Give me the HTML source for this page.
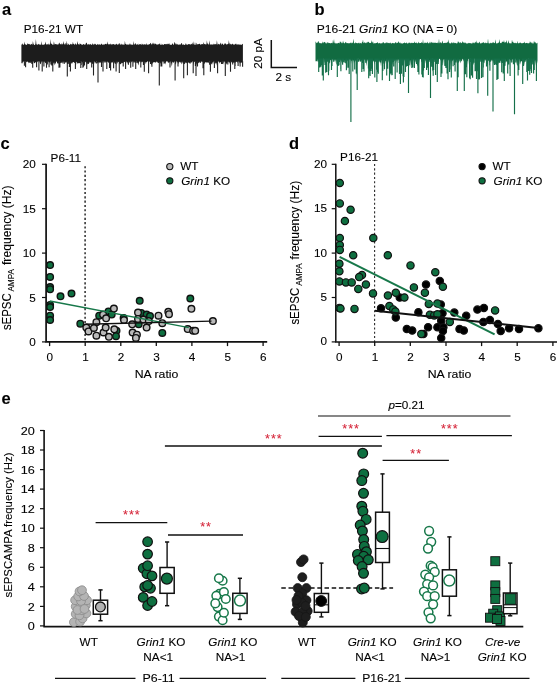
<!DOCTYPE html>
<html lang="en">
<head>
<meta charset="utf-8">
<title>Figure</title>
<style>
html,body{margin:0;padding:0;background:#fff;}
body{width:557px;height:685px;overflow:hidden;font-family:"Liberation Sans",Arial,Helvetica,sans-serif;}
svg{display:block;}
</style>
</head>
<body>
<svg width="557" height="685" viewBox="0 0 557 685">
<g font-family="'Liberation Sans', Arial, Helvetica, sans-serif">
<text transform="translate(2,14.6) scale(1.0,1)" font-size="16.5" font-weight="bold" fill="#000000" stroke="#000000" stroke-width="0.1">a</text>
<text transform="translate(23.7,33) scale(1.04,1)" font-size="11.3" fill="#000000" stroke="#000000" stroke-width="0.1">P16-21 WT</text>
<path d="M21.4,43.8 21.9,45 22.4,44.1 22.9,43.3 23.4,45 23.9,44.9 24.4,41.5 24.9,44.2 25.4,44.8 25.9,44 26.4,44.9 26.9,45 27.4,43.8 27.9,43.2 28.4,44.3 28.9,44.1 29.4,44.6 29.9,43.7 30.4,44.8 30.9,44.7 31.4,43.7 31.9,44.3 32.4,44.8 32.9,41 33.4,43.8 33.9,44.5 34.4,44.9 34.9,44.9 35.4,44.1 35.9,38.9 36.4,44.2 36.9,44.6 37.4,44.7 37.9,44.5 38.4,44.2 38.9,43.8 39.4,44.8 39.9,44.5 40.4,44.5 40.9,44.9 41.4,41 41.9,45 42.4,44.8 42.9,44.5 43.4,44.8 43.9,44.8 44.4,44.5 44.9,44.1 45.4,41.6 45.9,44.1 46.4,44.6 46.9,44.5 47.4,44.4 47.9,44.1 48.4,44.8 48.9,43.2 49.4,44.5 49.9,45 50.4,39.1 50.9,43.9 51.4,43.4 51.9,44.1 52.4,44.6 52.9,44.9 53.4,44.7 53.9,41.2 54.4,43.8 54.9,44.7 55.4,43.9 55.9,44 56.4,44.3 56.9,44.5 57.4,44.6 57.9,44.5 58.4,44.5 58.9,43.2 59.4,42.4 59.9,43.9 60.4,44.3 60.9,44.2 61.4,44.4 61.9,43.1 62.4,44.7 62.9,43.7 63.4,41 63.9,44.1 64.4,44.7 64.9,43.4 65.4,43.1 65.9,45 66.4,40.4 66.9,44.7 67.4,44.9 67.9,42.7 68.4,44.7 68.9,43.7 69.4,44.9 69.9,45 70.4,44 70.9,43.7 71.4,44.7 71.9,43.9 72.4,44.4 72.9,41.8 73.4,44 73.9,43.9 74.4,44.7 74.9,44.4 75.4,43.1 75.9,44.6 76.4,44.8 76.9,44.3 77.4,41 77.9,43.7 78.4,44.2 78.9,44.6 79.4,44.7 79.9,42.9 80.4,43.9 80.9,44.1 81.4,45 81.9,44 82.4,44.7 82.9,44.9 83.4,44 83.9,43.9 84.4,44.4 84.9,44.9 85.4,44.4 85.9,43.2 86.4,42.6 86.9,43.2 87.4,44.8 87.9,44.4 88.4,44.6 88.9,43.8 89.4,44.5 89.9,44.8 90.4,43.7 90.9,44.4 91.4,45 91.9,44.5 92.4,43.1 92.9,44.7 93.4,44.7 93.9,44.1 94.4,44.5 94.9,43.6 95.4,44.1 95.9,44.4 96.4,45 96.9,44.8 97.4,43.7 97.9,44.8 98.4,44.4 98.9,44.6 99.4,44 99.9,44.9 100.4,44.9 100.9,43.9 101.4,43.5 101.9,44.3 102.4,44.6 102.9,45 103.4,44.3 103.9,44.7 104.4,44.5 104.9,44.3 105.4,43.8 105.9,44 106.4,43.7 106.9,44.8 107.4,41.2 107.9,44.2 108.4,43.7 108.9,45 109.4,44.2 109.9,43.9 110.4,43.5 110.9,44.8 111.4,44.6 111.9,44.2 112.4,44.5 112.9,44 113.4,44.3 113.9,43.9 114.4,44.7 114.9,44.5 115.4,44.5 115.9,44.5 116.4,43.5 116.9,44.2 117.4,44.8 117.9,44.5 118.4,44.5 118.9,43.6 119.4,43.1 119.9,44.6 120.4,44.9 120.9,43.8 121.4,43.8 121.9,44.9 122.4,44.1 122.9,45 123.4,44.8 123.9,44.2 124.4,44.9 124.9,40.8 125.4,44.1 125.9,44.1 126.4,44.9 126.9,44.1 127.4,44.8 127.9,44.5 128.4,44.4 128.9,44.7 129.4,44.5 129.9,43.2 130.4,43.9 130.9,44.9 131.4,44.8 131.9,44.3 132.4,44.8 132.9,44.9 133.4,41.1 133.9,45 134.4,44.5 134.9,43.7 135.4,43 135.9,44.3 136.4,44.7 136.9,44.5 137.4,43.8 137.9,44.9 138.4,45 138.9,43.5 139.4,44.6 139.9,44.2 140.4,43.9 140.9,44.4 141.4,44.9 141.9,43.6 142.4,44.1 142.9,44.8 143.4,44.4 143.9,44.4 144.4,44.6 144.9,43.9 145.4,44.4 145.9,44.7 146.4,43.1 146.9,44.9 147.4,44.6 147.9,44.8 148.4,44.5 148.9,44.5 149.4,43.9 149.9,44.3 150.4,42.7 150.9,43.2 151.4,44.2 151.9,44.8 152.4,42.5 152.9,44.6 153.4,43.8 153.9,42.5 154.4,44.7 154.9,43.2 155.4,43.8 155.9,44.1 156.4,44.5 156.9,44.6 157.4,44.2 157.9,44.9 158.4,44.2 158.9,44.1 159.4,44.3 159.9,42.9 160.4,44.8 160.9,45 161.4,44.9 161.9,43.5 162.4,44.8 162.9,44.4 163.4,45 163.9,44.4 164.4,43.9 164.9,44 165.4,44.1 165.9,44.5 166.4,43.8 166.9,44.5 167.4,43.5 167.9,44.4 168.4,43.9 168.9,43.4 169.4,43.4 169.9,45 170.4,44.6 170.9,44.9 171.4,44.9 171.9,44.3 172.4,43.5 172.9,43.6 173.4,44.8 173.9,44.9 174.4,41.7 174.9,42.8 175.4,44.7 175.9,42.7 176.4,44.2 176.9,44.6 177.4,43.8 177.9,44.9 178.4,44.5 178.9,44.8 179.4,44.6 179.9,44.6 180.4,44.3 180.9,44.7 181.4,42.9 181.9,43.1 182.4,44.7 182.9,44.9 183.4,43.9 183.9,44.9 184.4,44.9 184.9,44.8 185.4,44.6 185.9,43.1 186.4,44.6 186.9,44.7 187.4,44.8 187.9,44.4 188.4,44 188.9,44.3 189.4,44 189.9,44.6 190.4,44.7 190.9,44 191.4,43.7 191.9,44.6 192.4,42.2 192.9,44.7 193.4,43.9 193.9,41.3 194.4,44.6 194.9,44.9 195.4,44.9 195.9,42.6 196.4,43.3 196.9,44.9 197.4,44.2 197.9,44 198.4,44.3 198.9,43.9 199.4,43.9 199.9,43.5 200.4,44.7 200.9,44.7 201.4,44.3 201.9,44 202.4,44.3 202.9,43.9 203.4,42 203.9,44.8 204.4,43.8 204.9,44 205.4,44.6 205.9,44.3 206.4,44.4 206.9,40.2 207.4,43.9 207.9,43.3 208.4,44.8 208.9,44.2 209.4,40.3 209.9,44.7 210.4,44.3 210.9,44.7 211.4,44.1 211.9,45 212.4,44.2 212.9,44.7 213.4,44.4 213.9,43.5 214.4,44.2 214.9,44.6 215.4,44.3 215.9,44.1 216.4,44.4 216.9,40.2 217.4,43.7 217.9,44.9 218.4,43.7 218.9,44 219.4,44.8 219.9,44 220.4,43.5 220.9,42.5 221.4,44.4 221.9,44.8 222.4,43.3 222.9,44.1 223.4,44.8 223.9,44.9 224.4,43 224.9,44.6 225.4,42.9 225.9,44.1 226.4,44.4 226.9,44.6 227.4,44.3 227.9,44.1 228.4,43.8 228.9,40 229.4,44.7 229.9,42.8 230.4,44.5 230.9,44.1 231.4,44.3 231.9,44.7 232.4,43.4 232.9,43.9 233.4,44.6 233.9,44.8 234.4,44.5 234.9,44.6 235.4,43.4 235.9,44.2 236.4,44.7 236.9,43.6 237.4,44.5 237.9,44.7 238.4,44.5 238.9,44.2 239.4,44.8 239.9,44.6 240.4,44.7 240.9,44.6 241.4,45 241.9,44.6 242.4,43.8 242.9,44.2 242.9,63 242.4,61.8 241.9,62.4 241.4,62.4 240.9,63.2 240.4,62.9 239.9,61.4 239.4,63.7 238.9,61.3 238.4,62.1 237.9,61.4 237.4,63.1 236.9,62.1 236.4,61.7 235.9,61.7 235.4,62.6 234.9,63.1 234.4,62.1 233.9,63 233.4,62.2 232.9,63 232.4,62.5 231.9,62.6 231.4,62.2 230.9,61.2 230.4,63 229.9,63.8 229.4,62.4 228.9,61.4 228.4,62 227.9,62.8 227.4,61.5 226.9,63.5 226.4,64.8 225.9,62.2 225.4,62.8 224.9,62.2 224.4,61.6 223.9,61.3 223.4,64.7 222.9,61.4 222.4,61.7 221.9,62.5 221.4,63.7 220.9,61.7 220.4,62.6 219.9,61.9 219.4,63.7 218.9,61.6 218.4,61.6 217.9,61.9 217.4,63.2 216.9,65.4 216.4,62.6 215.9,64.2 215.4,62.7 214.9,62.8 214.4,61.8 213.9,61.3 213.4,62.2 212.9,64.7 212.4,61.8 211.9,64.1 211.4,63.6 210.9,65.7 210.4,62.7 209.9,61.2 209.4,61.8 208.9,61.9 208.4,63.3 207.9,62.5 207.4,62.3 206.9,63.3 206.4,62 205.9,62.4 205.4,61.8 204.9,63.8 204.4,63.8 203.9,62 203.4,63.6 202.9,61.8 202.4,62.1 201.9,61.5 201.4,61.5 200.9,62.2 200.4,61.4 199.9,63.3 199.4,61.6 198.9,62.6 198.4,63 197.9,63.5 197.4,61.3 196.9,63.6 196.4,63.4 195.9,61.7 195.4,61.9 194.9,61.6 194.4,62.1 193.9,62.3 193.4,65.4 192.9,61.6 192.4,61.3 191.9,63.2 191.4,62.1 190.9,62.2 190.4,61.8 189.9,62.9 189.4,63.5 188.9,61.7 188.4,62.9 187.9,63.1 187.4,62.7 186.9,63.6 186.4,61.8 185.9,63.6 185.4,62 184.9,63.7 184.4,64.3 183.9,63.2 183.4,64.2 182.9,61.2 182.4,63.8 181.9,61.4 181.4,64.4 180.9,63.1 180.4,62.2 179.9,61.6 179.4,62.4 178.9,61.8 178.4,64.2 177.9,62.5 177.4,62.4 176.9,61.3 176.4,61.5 175.9,64.6 175.4,64.2 174.9,61.7 174.4,61.4 173.9,61.9 173.4,63 172.9,62.3 172.4,61.4 171.9,66.6 171.4,64.4 170.9,61.4 170.4,61.4 169.9,63 169.4,61.8 168.9,62.6 168.4,62.7 167.9,62.4 167.4,61.3 166.9,61.3 166.4,61.3 165.9,62.2 165.4,64.8 164.9,61.8 164.4,61.6 163.9,64.4 163.4,61.4 162.9,61.5 162.4,61.4 161.9,63.1 161.4,63.1 160.9,62.3 160.4,64.1 159.9,62.3 159.4,62.3 158.9,62.6 158.4,63.3 157.9,61.5 157.4,63.1 156.9,61.3 156.4,62 155.9,62.4 155.4,62.6 154.9,62.5 154.4,62 153.9,62.2 153.4,62 152.9,63.7 152.4,63.5 151.9,62 151.4,64.5 150.9,63.1 150.4,63.1 149.9,61.9 149.4,61.2 148.9,62.3 148.4,62.3 147.9,61.4 147.4,61.3 146.9,62.1 146.4,62 145.9,64.2 145.4,62.6 144.9,61.8 144.4,62.5 143.9,61.7 143.4,64.1 142.9,62 142.4,61.5 141.9,62.7 141.4,61.4 140.9,62.4 140.4,61.7 139.9,61.5 139.4,61.4 138.9,62.7 138.4,65.6 137.9,63.8 137.4,62.3 136.9,61.8 136.4,61.3 135.9,63 135.4,62.6 134.9,61.6 134.4,62.6 133.9,63.6 133.4,61.7 132.9,61.6 132.4,61.4 131.9,62.5 131.4,61.7 130.9,61.3 130.4,63 129.9,62.9 129.4,62.3 128.9,61.2 128.4,63.1 127.9,61.7 127.4,64.1 126.9,61.2 126.4,61.9 125.9,63.8 125.4,65 124.9,61.9 124.4,61.7 123.9,62.3 123.4,62.5 122.9,62.4 122.4,63.1 121.9,63.2 121.4,62.5 120.9,64.9 120.4,62.2 119.9,62.8 119.4,61.9 118.9,61.8 118.4,62.3 117.9,61.6 117.4,63.4 116.9,63.3 116.4,61.4 115.9,62.9 115.4,62 114.9,61.9 114.4,62.7 113.9,61.4 113.4,61.9 112.9,61.7 112.4,62.8 111.9,62.6 111.4,62.2 110.9,64.1 110.4,62.3 109.9,62.4 109.4,63 108.9,63.1 108.4,62.5 107.9,61.9 107.4,61.5 106.9,62.1 106.4,62.6 105.9,61.3 105.4,63.2 104.9,61.2 104.4,62.4 103.9,63.6 103.4,61.6 102.9,61.2 102.4,63 101.9,62.6 101.4,61.8 100.9,63 100.4,61.9 99.9,63.3 99.4,61.7 98.9,64 98.4,61.8 97.9,63.2 97.4,63.1 96.9,61.3 96.4,61.3 95.9,62.1 95.4,62.7 94.9,63.7 94.4,61.6 93.9,61.5 93.4,62.9 92.9,64.2 92.4,63.3 91.9,63.3 91.4,61.7 90.9,62.8 90.4,62 89.9,63.2 89.4,61.6 88.9,63.9 88.4,63.7 87.9,64.1 87.4,64.5 86.9,61.4 86.4,63.5 85.9,62.5 85.4,61.4 84.9,62.4 84.4,62.6 83.9,61.3 83.4,62.5 82.9,64.2 82.4,61.9 81.9,62.2 81.4,61.6 80.9,61.7 80.4,61.8 79.9,62.8 79.4,63.5 78.9,62.7 78.4,63.4 77.9,62.9 77.4,63.9 76.9,61.8 76.4,61.9 75.9,65.8 75.4,63 74.9,62.8 74.4,63 73.9,62.2 73.4,62.1 72.9,61.9 72.4,62.9 71.9,64 71.4,62.5 70.9,64.2 70.4,61.4 69.9,61.9 69.4,63.2 68.9,61.9 68.4,63.4 67.9,62 67.4,61.7 66.9,63.3 66.4,61.6 65.9,63 65.4,61.9 64.9,63.3 64.4,62.2 63.9,61.3 63.4,63.4 62.9,61.4 62.4,64 61.9,62.6 61.4,61.8 60.9,62.6 60.4,63.1 59.9,63.3 59.4,61.4 58.9,62.1 58.4,64.3 57.9,62.5 57.4,63.8 56.9,61.7 56.4,61.3 55.9,62.8 55.4,64.4 54.9,62.1 54.4,65.4 53.9,63.7 53.4,63 52.9,61.9 52.4,63.5 51.9,61.3 51.4,64.4 50.9,61.7 50.4,61.4 49.9,62.9 49.4,62.3 48.9,61.9 48.4,61.6 47.9,62.5 47.4,61.3 46.9,65.5 46.4,63.5 45.9,63.2 45.4,63 44.9,62.3 44.4,61.7 43.9,61.3 43.4,62.9 42.9,61.4 42.4,61.7 41.9,62 41.4,61.3 40.9,64.3 40.4,63.9 39.9,63.1 39.4,61.3 38.9,61.7 38.4,61.3 37.9,61.7 37.4,61.4 36.9,63 36.4,64.2 35.9,62.4 35.4,62 34.9,63.1 34.4,63.2 33.9,62.9 33.4,61.4 32.9,61.2 32.4,63.1 31.9,62.4 31.4,62 30.9,62.8 30.4,61.4 29.9,63.3 29.4,62.4 28.9,61.9 28.4,63.4 27.9,61.3 27.4,62 26.9,61.5 26.4,62.3 25.9,61.9 25.4,61.4 24.9,61.8 24.4,61.4 23.9,62.3 23.4,61.3 22.9,61.7 22.4,63.5 21.9,63.1 21.4,63.5Z" fill="#1c1c1c"/>
<path d="M68.1,61.2V64.1 M49.1,61.2V67.2 M178,61.2V66.4 M106.8,61.2V67.4 M51.8,61.2V65.5 M78.4,61.2V62.7 M49,61.2V62.9 M190.2,61.2V63.5 M128.4,61.2V64.8 M81.2,61.2V64.9 M170,61.2V67.4 M132.9,61.2V66.7 M235.1,61.2V66 M115,61.2V63.1 M43.9,61.2V66.5 M50.9,61.2V64.4 M122.2,61.2V62.7 M69.5,61.2V66.4 M140.8,61.2V67.4 M222,61.2V62.7 M171.5,61.2V62.7 M115.3,61.2V63.8 M232.7,61.2V64.6 M64.2,61.2V64.1 M137.1,61.2V62.9 M101.5,61.2V66.9 M238.1,61.2V66 M36.6,61.2V67.2 M123.2,61.2V66.5 M61.3,61.2V62.8 M221.7,61.2V63.1 M31.9,61.2V64.1 M240.1,61.2V66.5 M109.5,61.2V68.1 M197.5,61.2V66.6 M164.4,61.2V63.6 M221.5,61.2V63.9 M227.8,61.2V64.4 M222.4,61.2V64 M116.2,61.2V64.6 M92.1,61.2V62.8 M151.9,61.2V66.7 M83.5,61.2V66.8 M195.4,61.2V66 M113.6,61.2V68.2 M196.2,61.2V64.5 M47.3,61.2V64.5 M25.6,61.2V67.2 M96.4,61.2V63.4 M143.5,61.2V64.9 M150.5,61.2V64 M161.8,61.2V66.6 M120.5,61.2V64.1 M200.5,61.2V62.7 M57.7,61.2V63.3 M69.4,61.2V67.1 M55,61.2V62.8 M92.1,61.2V64.1 M203,61.2V68.2 M209.6,61.2V64.7 M30.7,61.2V62.7 M161,61.2V66.4 M80.8,61.2V67.9 M143.4,61.2V64.5 M158.4,61.2V62.7 M59.9,61.2V67.5 M81.2,61.2V62.7 M84.5,61.2V65.6 M80.2,61.2V62.9 M83.3,61.2V64 M184.5,61.2V63.2 M214.4,61.2V67.9 M203.1,61.2V62.7 M91.7,61.2V67.4 M211.3,61.2V62.8 M119.6,61.2V63.4 M186.7,61.2V62.7 M91.7,61.2V65.8 M217.3,61.2V62.7 M151.7,61.2V65.1 M24.4,61.2V65.8 M32.7,61.2V67.8 M38.9,61.2V70.4 M42.2,61.2V71.6 M46.5,61.2V67.8 M52.8,61.2V71.6 M59,61.2V67.8 M67.3,61.2V76.6 M70.4,61.2V71.6 M75.4,61.2V69.1 M82.9,61.2V67.8 M86.7,61.2V69.1 M93.5,61.2V75.4 M98,61.2V82.4 M103,61.2V71.6 M106.8,61.2V69.1 M110.6,61.2V70.4 M116.1,61.2V71.6 M119.3,61.2V72.9 M125.6,61.2V69.1 M130.7,61.2V67.8 M135.7,61.2V69.1 M159.3,61.2V85.6 M144.3,61.2V71.8 M148.6,61.2V73.3 M175.1,61.2V80.5 M183.7,61.2V78.2 M187.4,61.2V75.3 M193.2,61.2V73.3 M196,61.2V76.1 M203.8,61.2V75.3 M210.4,61.2V71.8 M217.6,61.2V73.3 M225.3,61.2V76.1 M230.5,61.2V71.8 M234.8,61.2V69 M242.6,61.2V66.7" stroke="#222222" stroke-width="1.1" fill="none"/>
<path d="M271.3,40V67.4H297" stroke="#111111" stroke-width="1.5" fill="none"/>
<text transform="translate(261.9,53.5) rotate(-90) scale(1.04,1)" font-size="11.3" text-anchor="middle" fill="#000000" stroke="#000000" stroke-width="0.1">20 pA</text>
<text transform="translate(283.4,81.1) scale(1.04,1)" font-size="11.3" text-anchor="middle" fill="#000000" stroke="#000000" stroke-width="0.1">2 s</text>
<text transform="translate(314.5,14.6) scale(1.0,1)" font-size="16.5" font-weight="bold" fill="#000000" stroke="#000000" stroke-width="0.1">b</text>
<text transform="translate(316.8,33) scale(1.068,1)" font-size="11.3" fill="#000000" stroke="#000000" stroke-width="0.1">P16-21 <tspan font-style="italic">Grin1</tspan> KO (NA = 0)</text>
<path d="M315.5,41.5 316,42.1 316.5,43.2 317,42.7 317.5,42.8 318,41.4 318.5,40.9 319,42.8 319.5,42.7 320,43.6 320.5,42.9 321,43.3 321.5,43.2 322,43.5 322.5,41.3 323,43.6 323.5,42.6 324,41.9 324.5,42.2 325,41.8 325.5,43 326,43.4 326.5,43.4 327,42.2 327.5,42.3 328,43.4 328.5,42.4 329,43 329.5,43.1 330,43.2 330.5,43.3 331,43.2 331.5,42.9 332,42.8 332.5,43.4 333,39.5 333.5,43.4 334,38.8 334.5,43.5 335,42.5 335.5,43.5 336,43.5 336.5,43.5 337,43 337.5,43.4 338,43.3 338.5,42.8 339,42.9 339.5,43.4 340,41 340.5,42.5 341,41.5 341.5,43.5 342,42.5 342.5,43.4 343,40.5 343.5,42.5 344,43.1 344.5,43.4 345,43.1 345.5,41.7 346,42.6 346.5,42.7 347,43.4 347.5,42.9 348,43 348.5,43.5 349,43 349.5,43.5 350,42.7 350.5,43.3 351,42.1 351.5,43.6 352,42.8 352.5,43.2 353,42.1 353.5,38.6 354,43.4 354.5,43 355,43.5 355.5,42 356,43.2 356.5,42.9 357,42.7 357.5,43.4 358,43.1 358.5,43.3 359,42.3 359.5,43.4 360,43.2 360.5,42.7 361,43.6 361.5,43.5 362,42.2 362.5,42 363,39.5 363.5,43.2 364,42.7 364.5,42.3 365,42.8 365.5,42.8 366,43.4 366.5,42.4 367,42.6 367.5,42.6 368,41.5 368.5,42.1 369,42.3 369.5,43.1 370,43 370.5,42.9 371,42.7 371.5,40 372,42.9 372.5,42.3 373,41.3 373.5,43.6 374,43.4 374.5,43.2 375,43.1 375.5,43.6 376,42.8 376.5,42.9 377,43.1 377.5,41.7 378,43.3 378.5,43.2 379,43.4 379.5,42.7 380,43.2 380.5,43.5 381,43.2 381.5,43.2 382,43.4 382.5,43.1 383,42 383.5,42.3 384,43.1 384.5,43.2 385,43.4 385.5,43 386,42.6 386.5,42.2 387,43.5 387.5,42.2 388,43.3 388.5,43 389,42.8 389.5,43.1 390,43.5 390.5,42.3 391,43.5 391.5,43.5 392,43.3 392.5,42.8 393,43.2 393.5,43 394,43.6 394.5,43.2 395,43.1 395.5,42.2 396,41.9 396.5,43.5 397,42.7 397.5,43 398,42.6 398.5,40.9 399,42.7 399.5,43.2 400,42.1 400.5,43.3 401,43.6 401.5,43.3 402,43.4 402.5,43.4 403,43.5 403.5,42.9 404,43 404.5,42.3 405,42.9 405.5,43.3 406,43 406.5,42.3 407,43.4 407.5,43.4 408,43.2 408.5,43.3 409,42.3 409.5,42.7 410,43.3 410.5,43.2 411,42.5 411.5,43.2 412,42.6 412.5,43.3 413,42.8 413.5,43 414,42.9 414.5,41.2 415,42.9 415.5,43 416,42.6 416.5,42.4 417,43.4 417.5,43.3 418,43 418.5,41.6 419,43.4 419.5,42.7 420,42.9 420.5,43 421,42.9 421.5,42.2 422,42.6 422.5,43.3 423,39 423.5,43.3 424,43.5 424.5,42.7 425,42.4 425.5,42.9 426,42.5 426.5,43 427,43.2 427.5,41.6 428,43.1 428.5,43.3 429,43.5 429.5,42.8 430,41.4 430.5,42.7 431,43.4 431.5,41.8 432,42.3 432.5,43.2 433,42 433.5,43.2 434,42.6 434.5,43.1 435,42.6 435.5,42.7 436,43.1 436.5,43.1 437,42.8 437.5,42.5 438,43.4 438.5,42.5 439,38.4 439.5,43.5 440,42.2 440.5,42.6 441,42.7 441.5,43.5 442,42 442.5,40.4 443,43.1 443.5,43.2 444,43 444.5,42.7 445,43.3 445.5,42.5 446,43.2 446.5,42.8 447,42.6 447.5,41.6 448,43.3 448.5,39.3 449,42.3 449.5,43.6 450,43 450.5,43.6 451,43.4 451.5,42.3 452,42.4 452.5,43.4 453,42.3 453.5,42.6 454,43.6 454.5,42.4 455,43.2 455.5,42.9 456,42.7 456.5,43.5 457,43.4 457.5,42.9 458,40.9 458.5,41.9 459,42.5 459.5,42.5 460,43.4 460.5,42 461,42.4 461.5,43.2 462,42.9 462.5,41.1 463,42.2 463.5,43.1 464,41.8 464.5,43 465,43.2 465.5,42.3 466,43.4 466.5,43.5 467,43.3 467.5,43.5 468,43.5 468.5,43.1 469,42.8 469.5,43.2 470,42.9 470.5,43.2 471,43.2 471.5,43.4 472,43.5 472.5,43.2 473,42 473.5,43 474,43.3 474.5,43.2 475,42 475.5,41.7 476,43.2 476.5,40.2 477,43.5 477.5,42.7 478,42.5 478.5,43.4 479,42.4 479.5,41.4 480,43 480.5,43.5 481,43.4 481.5,43.3 482,42.6 482.5,43.1 483,42.4 483.5,42.3 484,42.6 484.5,43.2 485,43.2 485.5,42.2 486,43.4 486.5,42.7 487,43.2 487.5,43.1 488,38.6 488.5,42.9 489,43.5 489.5,43.3 490,43.5 490.5,42.6 491,43.2 491.5,42.7 492,43.5 492.5,42.2 493,42.8 493.5,42.1 494,43.3 494.5,43 495,42.7 495.5,39.3 496,43 496.5,43.5 497,43.5 497.5,43.3 498,42.8 498.5,42.8 499,42.6 499.5,39.1 500,42.8 500.5,43 501,43.3 501.5,43 502,41.4 502.5,41.7 503,42.1 503.5,42.1 504,39.9 504.5,42.7 505,42.2 505.5,41.9 506,43.1 506.5,39.9 507,42 507.5,43.5 508,43 508.5,40.1 509,42.6 509.5,43.4 510,43 510.5,43.4 511,43.2 511.5,43.4 512,39.5 512.5,42.3 513,41.5 513.5,42.7 514,43 514.5,42.7 515,43.4 515.5,42.4 516,43.3 516.5,43 517,43.4 517.5,40.7 518,43.6 518.5,42.9 519,43.6 519.5,42.5 520,42.9 520.5,42.5 521,42.8 521.5,43.4 522,43.1 522.5,43.2 523,43.3 523.5,42.7 524,42.9 524.5,41.4 525,43.3 525.5,43.2 526,42.9 526.5,43.1 527,42.7 527.5,43.4 528,42.8 528.5,43.6 529,43.2 529.5,43.1 530,40.9 530.5,42.7 531,42.1 531.5,43.6 532,42.1 532.5,43.4 533,43.4 533.5,43.5 534,40.4 534.5,42.6 535,42.3 535.5,42.3 536,43.4 536.5,43.3 537,43.3 537.5,42.6 537.5,63.8 537,60.4 536.5,63.9 536,59.7 535.5,65.7 535,59.5 534.5,61.4 534,61.1 533.5,61.3 533,64.1 532.5,62.4 532,61.5 531.5,60.6 531,64.2 530.5,61.3 530,64.5 529.5,65.9 529,59 528.5,58.8 528,61.8 527.5,61.4 527,61.9 526.5,58.8 526,61.2 525.5,60.5 525,59.8 524.5,66.2 524,60.5 523.5,60.5 523,58.6 522.5,63.9 522,62.3 521.5,61.1 521,60.9 520.5,62.8 520,64.7 519.5,60.9 519,58.7 518.5,62.8 518,61 517.5,62.5 517,65.2 516.5,62.7 516,59.5 515.5,59.1 515,58.7 514.5,63.1 514,58.7 513.5,61.4 513,59.7 512.5,59.3 512,59.5 511.5,61.8 511,63.1 510.5,60.2 510,59.7 509.5,59.3 509,59.2 508.5,59 508,66.4 507.5,60.7 507,62.7 506.5,61.1 506,62 505.5,63.1 505,58.7 504.5,61 504,64.1 503.5,59.1 503,61.1 502.5,58.9 502,62.1 501.5,63.4 501,60 500.5,61.8 500,60.9 499.5,59.7 499,60.4 498.5,63.7 498,63.2 497.5,61.7 497,62.4 496.5,61.1 496,60.5 495.5,60.4 495,58.8 494.5,60.2 494,60.3 493.5,64.8 493,59.6 492.5,60.7 492,61.5 491.5,59.5 491,62.1 490.5,62.1 490,60.6 489.5,59.4 489,61.1 488.5,60.9 488,59.9 487.5,61 487,61.1 486.5,59.9 486,59.8 485.5,61 485,58.9 484.5,62.5 484,63.6 483.5,62.5 483,60.3 482.5,61.9 482,62.6 481.5,64.8 481,58.7 480.5,60.7 480,60.6 479.5,62.7 479,61.9 478.5,59 478,63.5 477.5,61.7 477,60.4 476.5,59.1 476,59.4 475.5,59.7 475,59.6 474.5,58.7 474,58.9 473.5,64.8 473,64.2 472.5,62.5 472,59 471.5,60.5 471,58.6 470.5,60.2 470,62.3 469.5,63.3 469,59.1 468.5,58.7 468,65 467.5,60.8 467,60.8 466.5,64.8 466,62.3 465.5,60.7 465,60.9 464.5,59.6 464,59.8 463.5,61.8 463,58.8 462.5,59.1 462,60.5 461.5,61.1 461,61.8 460.5,63.6 460,59.1 459.5,61.5 459,61.2 458.5,62.5 458,58.7 457.5,62.6 457,61.4 456.5,63.5 456,59.2 455.5,61.1 455,59 454.5,61.8 454,61.9 453.5,59.4 453,59.7 452.5,61.6 452,60.6 451.5,65.9 451,59.1 450.5,66.5 450,59.8 449.5,62.1 449,59.2 448.5,60.7 448,60.1 447.5,61.6 447,60.3 446.5,59.4 446,59.4 445.5,59 445,63.2 444.5,58.7 444,59.6 443.5,59.4 443,65.2 442.5,65.3 442,59.9 441.5,59.4 441,59.9 440.5,60.4 440,58.6 439.5,59 439,59.1 438.5,63 438,61.6 437.5,60.6 437,59.6 436.5,63 436,61.6 435.5,61 435,61.7 434.5,60.8 434,59.2 433.5,63.6 433,59.3 432.5,58.7 432,60.3 431.5,62.8 431,62.5 430.5,59.1 430,61.9 429.5,62 429,59.7 428.5,62.3 428,64.8 427.5,60.2 427,59.5 426.5,61.6 426,60.3 425.5,62.1 425,59.1 424.5,59.8 424,63.7 423.5,61.2 423,60.9 422.5,61.1 422,61.7 421.5,62.5 421,59.8 420.5,58.9 420,59 419.5,59.7 419,63.5 418.5,59.8 418,62 417.5,65.6 417,60 416.5,61.2 416,61 415.5,63 415,59.2 414.5,61 414,61.6 413.5,59.1 413,64 412.5,58.8 412,62.3 411.5,62.6 411,59.4 410.5,63.3 410,68 409.5,60 409,62 408.5,61.8 408,60.2 407.5,59.9 407,62.3 406.5,63 406,59.3 405.5,59.6 405,61.5 404.5,59.3 404,65.4 403.5,61.5 403,62.3 402.5,59.4 402,59.8 401.5,60.2 401,59 400.5,59.3 400,64 399.5,59 399,59.5 398.5,59.5 398,61.1 397.5,60.5 397,58.7 396.5,63 396,59.5 395.5,61 395,59.3 394.5,61.2 394,61 393.5,59.8 393,60.3 392.5,65.3 392,63.1 391.5,64.6 391,62 390.5,64.1 390,59.1 389.5,59.9 389,59.4 388.5,61 388,62.9 387.5,60.7 387,63.9 386.5,58.7 386,64.1 385.5,61 385,60.8 384.5,61.4 384,60 383.5,64.3 383,63 382.5,61.6 382,59.8 381.5,61.4 381,66.5 380.5,62.1 380,62.9 379.5,61.1 379,59.8 378.5,63.1 378,61 377.5,60.3 377,62.9 376.5,60.9 376,59.2 375.5,59 375,61.3 374.5,64.8 374,61.8 373.5,60.6 373,62.4 372.5,59.1 372,62.6 371.5,58.9 371,60 370.5,60.8 370,64 369.5,63.6 369,62.1 368.5,62.9 368,59.4 367.5,61.7 367,58.9 366.5,66.2 366,63 365.5,63.1 365,59.3 364.5,60.5 364,59 363.5,60 363,61.3 362.5,58.8 362,59.8 361.5,61 361,60 360.5,61.2 360,61.7 359.5,60.8 359,58.9 358.5,59.2 358,58.6 357.5,59.9 357,65.1 356.5,58.8 356,60.9 355.5,60.2 355,62.5 354.5,61.4 354,63.7 353.5,59.8 353,61.6 352.5,59.6 352,60.8 351.5,60.7 351,64 350.5,59.3 350,60.6 349.5,59.1 349,60.2 348.5,59.1 348,60.3 347.5,61.5 347,59.9 346.5,59.7 346,60.1 345.5,63.2 345,62.9 344.5,62.4 344,59.8 343.5,61.9 343,58.7 342.5,61 342,61 341.5,62 341,59.4 340.5,61.2 340,59.4 339.5,58.9 339,59.2 338.5,61 338,59.8 337.5,60 337,59 336.5,65 336,63.8 335.5,59.3 335,62.1 334.5,59.3 334,61.5 333.5,60.3 333,59.4 332.5,59.8 332,59.2 331.5,60.9 331,60.5 330.5,59.7 330,60.7 329.5,63.5 329,63.3 328.5,60.4 328,60.6 327.5,59.1 327,59.9 326.5,65.6 326,60.4 325.5,58.8 325,61.6 324.5,63.2 324,58.6 323.5,59.3 323,63.7 322.5,59.6 322,64.2 321.5,63.6 321,60.4 320.5,61.5 320,59.3 319.5,61.1 319,59.2 318.5,59.5 318,58.9 317.5,60 317,61.2 316.5,61 316,61.7 315.5,60.7Z" fill="#116b41"/>
<path d="M376.6,58.6V69.7 M508.6,58.6V64.6 M445.6,58.6V62.7 M505,58.6V65.7 M423.5,58.6V70.6 M386.7,58.6V75.5 M417.5,58.6V65.5 M476.2,58.6V70.9 M472.6,58.6V77.7 M494.5,58.6V65.1 M458.1,58.6V77.3 M328.8,58.6V70.7 M432.5,58.6V65 M342.7,58.6V63.3 M481.5,58.6V78 M533.6,58.6V73.6 M510.1,58.6V75.9 M352.8,58.6V71.6 M507.7,58.6V73.5 M377.3,58.6V71.9 M402.3,58.6V65.5 M477.3,58.6V71.2 M346.4,58.6V70.2 M329.6,58.6V62.5 M498,58.6V79.1 M372.4,58.6V73.9 M356.6,58.6V66.8 M393.2,58.6V61.7 M411.8,58.6V68 M503.8,58.6V61.8 M379.8,58.6V61.6 M362.4,58.6V63.1 M496.9,58.6V80.1 M363.8,58.6V66.5 M431.7,58.6V66.7 M527.5,58.6V80.6 M325,58.6V65.1 M432.7,58.6V70.5 M433.2,58.6V75.7 M338.2,58.6V66.1 M499.2,58.6V62.2 M354.7,58.6V69.6 M348.4,58.6V67.8 M343.9,58.6V62.3 M390,58.6V74.5 M451,58.6V69.4 M454.6,58.6V64.9 M531.3,58.6V69 M454.8,58.6V61.7 M371.5,58.6V68.8 M526.8,58.6V72 M328.5,58.6V75.3 M363.2,58.6V69 M358.5,58.6V61.7 M486.5,58.6V66.6 M449.6,58.6V72 M447.2,58.6V65.2 M387.3,58.6V67.5 M370.6,58.6V63 M494.9,58.6V64.1 M475.1,58.6V71.3 M418.9,58.6V74.6 M389.2,58.6V61.6 M503.2,58.6V73.4 M478.9,58.6V79.4 M406.3,58.6V65.4 M451.3,58.6V77.6 M378.3,58.6V73.7 M527.1,58.6V63 M320.3,58.6V62.2 M458.5,58.6V62.6 M525.1,58.6V61.8 M513.4,58.6V64.2 M518.9,58.6V64 M340.9,58.6V71.2 M382.3,58.6V80.2 M497.5,58.6V63 M424.3,58.6V68 M486.5,58.6V63.1 M441.1,58.6V67.3 M445.9,58.6V68.1 M411.6,58.6V64.7 M403.4,58.6V82.4 M431.4,58.6V61.8 M403.1,58.6V73.9 M466.6,58.6V61.7 M407.4,58.6V65.9 M502.5,58.6V63.1 M518.1,58.6V75.5 M320.8,58.6V66.8 M433.7,58.6V70 M511.8,58.6V62.5 M498.8,58.6V61.6 M499.8,58.6V63 M322.3,58.6V75.5 M530.1,58.6V70.7 M487.7,58.6V64.9 M371,58.6V70.9 M494.4,58.6V63.1 M399.1,58.6V63.1 M374.8,58.6V77.4 M318,58.6V61.6 M357,58.6V74.5 M441.9,58.6V73.6 M469.6,58.6V78.2 M445.6,58.6V61.6 M339,58.6V65.2 M342.6,58.6V63.6 M376.9,58.6V81.9 M528.7,58.6V71.1 M409.2,58.6V65.2 M332,58.6V65.9 M348.1,58.6V67.5 M496.1,58.6V65 M471.9,58.6V75.5 M517.7,58.6V65.4 M368.7,58.6V78.2 M426.3,58.6V63.2 M466.8,58.6V77.3 M532.8,58.6V64.6 M374.8,58.6V62.9 M382.1,58.6V62.6 M518.8,58.6V70 M327.5,58.6V61.8 M357.2,58.6V81.3 M391.8,58.6V75.3 M366,58.6V62.4 M523.8,58.6V61.7 M426.7,58.6V67.5 M390.8,58.6V73.6 M504.4,58.6V62.7 M382.9,58.6V66.6 M422,58.6V70 M486.9,58.6V64 M523.4,58.6V66 M322.8,58.6V65.3 M433.1,58.6V62.3 M510,58.6V69.1 M430.9,58.6V63.3 M345.8,58.6V63.2 M457.6,58.6V71.4 M466.9,58.6V61.6 M487.7,58.6V71.7 M466.5,58.6V67.3 M504.3,58.6V81.1 M444.8,58.6V65.5 M435.6,58.6V75.1 M465.4,58.6V74.3 M384.5,58.6V69.2 M368.4,58.6V68.6 M319.8,58.6V67.6 M476.5,58.6V79 M423.2,58.6V77.6 M360.5,58.6V61.6 M438.2,58.6V64.1 M403.5,58.6V69.1 M482.8,58.6V77.2 M387.7,58.6V68.7 M455.1,58.6V71.5 M445,58.6V66.1 M494.6,58.6V61.6 M489.5,58.6V62.2 M356.6,58.6V71.1 M416.5,58.6V64.1 M333.7,58.6V61.7 M375.4,58.6V61.8 M469.7,58.6V62.4 M400.2,58.6V65.3 M471.5,58.6V75.6 M455.5,58.6V62.6 M346.7,58.6V68.2 M397.1,58.6V72.6 M364,58.6V71.6 M395.3,58.6V63.2 M356.3,58.6V73.6 M427.4,58.6V67.8 M499.6,58.6V61.6 M436.4,58.6V63.9 M370.1,58.6V76 M369.9,58.6V65.1 M412,58.6V62 M384.7,58.6V61.6 M426.6,58.6V69.9 M536.4,58.6V80.9 M389.5,58.6V81.1 M339.4,58.6V62.1 M433.1,58.6V71.4 M447.2,58.6V61.6 M406.2,58.6V66.7 M401.5,58.6V73.8 M480.2,58.6V61.8 M418.9,58.6V71.8 M489.9,58.6V70.8 M531.5,58.6V73.1 M403.1,58.6V76.2 M451.2,58.6V69.1 M447.1,58.6V73.5 M472.4,58.6V66 M489.7,58.6V65.3 M479.5,58.6V79.2 M433.1,58.6V62.1 M515.8,58.6V62.6 M362.9,58.6V61.6 M408.8,58.6V65 M496.5,58.6V62.2 M399.5,58.6V74 M321.7,58.6V65.2 M349.2,58.6V74.1 M382.3,58.6V62 M341.2,58.6V62.5 M471.2,58.6V61.9 M325.3,58.6V62.8 M325.7,58.6V72.8 M483.3,58.6V67.6 M390,58.6V61.6 M473.8,58.6V62.8 M437.3,58.6V82.1 M369.3,58.6V71.5 M412.8,58.6V67.6 M405.5,58.6V71.9 M431,58.6V61.6 M496.9,58.6V62.8 M393.7,58.6V66.4 M447.2,58.6V73.6 M342.6,58.6V64.7 M453.1,58.6V66.3 M370,58.6V74.9 M528.5,58.6V70.3 M434.2,58.6V62.1 M421.8,58.6V74.5 M318.7,58.6V72 M323.3,58.6V80.5 M326.8,58.6V72 M331.5,58.6V70 M337.3,58.6V77 M340.8,58.6V69 M350.9,58.6V122 M357.2,58.6V90 M361.8,58.6V72 M370,58.6V70 M378.2,58.6V68 M382.8,58.6V71 M392.2,58.6V75 M395.2,58.6V79 M400.4,58.6V84 M403.9,58.6V77 M408.5,58.6V93 M414.4,58.6V68 M417.9,58.6V72 M422.5,58.6V77 M428.4,58.6V75 M430.5,58.6V98 M441,58.6V77 M448,58.6V79.3 M457.3,58.6V91 M464.3,58.6V91 M470.2,58.6V79.3 M477.9,58.6V93.3 M483,58.6V77 M487.7,58.6V95.7 M493,58.6V111.5 M497,58.6V79.3 M501.7,58.6V72.3 M514.5,58.6V114.3 M522.7,58.6V84 M529.7,58.6V74.7 M534.3,58.6V70" stroke="#15704a" stroke-width="1.15" fill="none"/>
<text transform="translate(0.6,148.5) scale(1.0,1)" font-size="16.5" font-weight="bold" fill="#000000" stroke="#000000" stroke-width="0.1">c</text>
<line x1="85.1" y1="166.2" x2="85.1" y2="341.9" stroke="#2a2a2a" stroke-width="1.5" stroke-dasharray="2.1,2.2"/>
<path d="M46.1,163.7V341.9H267.2" stroke="#111111" stroke-width="1.7" fill="none"/>
<line x1="42" y1="341.9" x2="46.1" y2="341.9" stroke="#111111" stroke-width="1.2"/>
<text transform="translate(35.9,346) scale(1.04,1)" font-size="11.3" text-anchor="end" fill="#000000" stroke="#000000" stroke-width="0.1">0</text>
<line x1="42" y1="297.5" x2="46.1" y2="297.5" stroke="#111111" stroke-width="1.2"/>
<text transform="translate(35.9,301.6) scale(1.04,1)" font-size="11.3" text-anchor="end" fill="#000000" stroke="#000000" stroke-width="0.1">5</text>
<line x1="42" y1="253.1" x2="46.1" y2="253.1" stroke="#111111" stroke-width="1.2"/>
<text transform="translate(35.9,257.2) scale(1.04,1)" font-size="11.3" text-anchor="end" fill="#000000" stroke="#000000" stroke-width="0.1">10</text>
<line x1="42" y1="208.7" x2="46.1" y2="208.7" stroke="#111111" stroke-width="1.2"/>
<text transform="translate(35.9,212.8) scale(1.04,1)" font-size="11.3" text-anchor="end" fill="#000000" stroke="#000000" stroke-width="0.1">15</text>
<line x1="42" y1="164.3" x2="46.1" y2="164.3" stroke="#111111" stroke-width="1.2"/>
<text transform="translate(35.9,168.4) scale(1.04,1)" font-size="11.3" text-anchor="end" fill="#000000" stroke="#000000" stroke-width="0.1">20</text>
<line x1="49.6" y1="341.9" x2="49.6" y2="346.1" stroke="#111111" stroke-width="1.3"/>
<text transform="translate(49.8,361.1) scale(1.04,1)" font-size="11.3" text-anchor="middle" fill="#000000" stroke="#000000" stroke-width="0.1">0</text>
<line x1="85.2" y1="341.9" x2="85.2" y2="346.1" stroke="#111111" stroke-width="1.3"/>
<text transform="translate(85.4,361.1) scale(1.04,1)" font-size="11.3" text-anchor="middle" fill="#000000" stroke="#000000" stroke-width="0.1">1</text>
<line x1="120.8" y1="341.9" x2="120.8" y2="346.1" stroke="#111111" stroke-width="1.3"/>
<text transform="translate(121,361.1) scale(1.04,1)" font-size="11.3" text-anchor="middle" fill="#000000" stroke="#000000" stroke-width="0.1">2</text>
<line x1="156.3" y1="341.9" x2="156.3" y2="346.1" stroke="#111111" stroke-width="1.3"/>
<text transform="translate(156.5,361.1) scale(1.04,1)" font-size="11.3" text-anchor="middle" fill="#000000" stroke="#000000" stroke-width="0.1">3</text>
<line x1="191.9" y1="341.9" x2="191.9" y2="346.1" stroke="#111111" stroke-width="1.3"/>
<text transform="translate(192.1,361.1) scale(1.04,1)" font-size="11.3" text-anchor="middle" fill="#000000" stroke="#000000" stroke-width="0.1">4</text>
<line x1="227.5" y1="341.9" x2="227.5" y2="346.1" stroke="#111111" stroke-width="1.3"/>
<text transform="translate(227.7,361.1) scale(1.04,1)" font-size="11.3" text-anchor="middle" fill="#000000" stroke="#000000" stroke-width="0.1">5</text>
<line x1="263.1" y1="341.9" x2="263.1" y2="346.1" stroke="#111111" stroke-width="1.3"/>
<text transform="translate(263.3,361.1) scale(1.04,1)" font-size="11.3" text-anchor="middle" fill="#000000" stroke="#000000" stroke-width="0.1">6</text>
<text transform="translate(156.5,377.6) scale(1.09,1)" font-size="11.3" text-anchor="middle" fill="#000000" stroke="#000000" stroke-width="0.1">NA ratio</text>
<text transform="translate(50.6,162) scale(1.04,1)" font-size="11.3" fill="#000000" stroke="#000000" stroke-width="0.1">P6-11</text>
<text transform="translate(10.9,330.1) rotate(-90) scale(1.0,1)" font-size="12.3" fill="#000000" stroke="#000000" stroke-width="0.1" textLength="36.8" lengthAdjust="spacingAndGlyphs">sEPSC</text>
<text transform="translate(13.8,291.6) rotate(-90) scale(1.0,1)" font-size="8.2" fill="#000000" stroke="#000000" stroke-width="0.1" textLength="22.6" lengthAdjust="spacingAndGlyphs">AMPA</text>
<text transform="translate(10.9,265) rotate(-90) scale(1.0,1)" font-size="12.3" fill="#000000" stroke="#000000" stroke-width="0.1" textLength="79.6" lengthAdjust="spacingAndGlyphs">frequency (Hz)</text>
<circle cx="50.1" cy="265.1" r="3.3" fill="#0e6f40" stroke="#111111" stroke-width="1.4"/>
<circle cx="50.1" cy="276.9" r="3.3" fill="#0e6f40" stroke="#111111" stroke-width="1.4"/>
<circle cx="50.1" cy="287.1" r="3.3" fill="#0e6f40" stroke="#111111" stroke-width="1.4"/>
<circle cx="50.1" cy="289.2" r="3.3" fill="#0e6f40" stroke="#111111" stroke-width="1.4"/>
<circle cx="60.5" cy="296.3" r="3.3" fill="#0e6f40" stroke="#111111" stroke-width="1.4"/>
<circle cx="71.5" cy="293.5" r="3.3" fill="#0e6f40" stroke="#111111" stroke-width="1.4"/>
<circle cx="50.1" cy="304.9" r="3.3" fill="#0e6f40" stroke="#111111" stroke-width="1.4"/>
<circle cx="50.1" cy="307.1" r="3.3" fill="#0e6f40" stroke="#111111" stroke-width="1.4"/>
<circle cx="50.1" cy="315.7" r="3.3" fill="#0e6f40" stroke="#111111" stroke-width="1.4"/>
<circle cx="50.1" cy="320" r="3.3" fill="#0e6f40" stroke="#111111" stroke-width="1.4"/>
<circle cx="80.3" cy="323.7" r="3.3" fill="#0e6f40" stroke="#111111" stroke-width="1.4"/>
<circle cx="139.7" cy="300.8" r="3.3" fill="#0e6f40" stroke="#111111" stroke-width="1.4"/>
<circle cx="99.2" cy="315.7" r="3.3" fill="#0e6f40" stroke="#111111" stroke-width="1.4"/>
<circle cx="108.5" cy="311.4" r="3.3" fill="#0e6f40" stroke="#111111" stroke-width="1.4"/>
<circle cx="111.7" cy="314.6" r="3.3" fill="#0e6f40" stroke="#111111" stroke-width="1.4"/>
<circle cx="116.5" cy="330.8" r="3.3" fill="#0e6f40" stroke="#111111" stroke-width="1.4"/>
<circle cx="116" cy="336.2" r="3.3" fill="#0e6f40" stroke="#111111" stroke-width="1.4"/>
<circle cx="123.6" cy="317.9" r="3.3" fill="#0e6f40" stroke="#111111" stroke-width="1.4"/>
<circle cx="141.2" cy="312.9" r="3.3" fill="#0e6f40" stroke="#111111" stroke-width="1.4"/>
<circle cx="146.6" cy="314.6" r="3.3" fill="#0e6f40" stroke="#111111" stroke-width="1.4"/>
<circle cx="138.7" cy="324.3" r="3.3" fill="#0e6f40" stroke="#111111" stroke-width="1.4"/>
<circle cx="162.3" cy="332.9" r="3.3" fill="#0e6f40" stroke="#111111" stroke-width="1.4"/>
<circle cx="190.3" cy="298.5" r="3.3" fill="#0e6f40" stroke="#111111" stroke-width="1.4"/>
<circle cx="150" cy="316" r="3.3" fill="#0e6f40" stroke="#111111" stroke-width="1.4"/>
<circle cx="113.9" cy="308.6" r="3.3" fill="#b9b9b9" stroke="#111111" stroke-width="1.4"/>
<circle cx="103.1" cy="314.6" r="3.3" fill="#b9b9b9" stroke="#111111" stroke-width="1.4"/>
<circle cx="106.1" cy="318.3" r="3.3" fill="#b9b9b9" stroke="#111111" stroke-width="1.4"/>
<circle cx="96.4" cy="322.2" r="3.3" fill="#b9b9b9" stroke="#111111" stroke-width="1.4"/>
<circle cx="86.3" cy="327.6" r="3.3" fill="#b9b9b9" stroke="#111111" stroke-width="1.4"/>
<circle cx="88.5" cy="331.4" r="3.3" fill="#b9b9b9" stroke="#111111" stroke-width="1.4"/>
<circle cx="93.9" cy="328" r="3.3" fill="#b9b9b9" stroke="#111111" stroke-width="1.4"/>
<circle cx="96.4" cy="335.7" r="3.3" fill="#b9b9b9" stroke="#111111" stroke-width="1.4"/>
<circle cx="103.5" cy="332.5" r="3.3" fill="#b9b9b9" stroke="#111111" stroke-width="1.4"/>
<circle cx="105.7" cy="327.6" r="3.3" fill="#b9b9b9" stroke="#111111" stroke-width="1.4"/>
<circle cx="108.9" cy="336.8" r="3.3" fill="#b9b9b9" stroke="#111111" stroke-width="1.4"/>
<circle cx="114.3" cy="329.3" r="3.3" fill="#b9b9b9" stroke="#111111" stroke-width="1.4"/>
<circle cx="124" cy="320" r="3.3" fill="#b9b9b9" stroke="#111111" stroke-width="1.4"/>
<circle cx="132.2" cy="324.3" r="3.3" fill="#b9b9b9" stroke="#111111" stroke-width="1.4"/>
<circle cx="132.6" cy="332.5" r="3.3" fill="#b9b9b9" stroke="#111111" stroke-width="1.4"/>
<circle cx="136.9" cy="334.7" r="3.3" fill="#b9b9b9" stroke="#111111" stroke-width="1.4"/>
<circle cx="135.9" cy="337.9" r="3.3" fill="#b9b9b9" stroke="#111111" stroke-width="1.4"/>
<circle cx="138" cy="312.5" r="3.3" fill="#b9b9b9" stroke="#111111" stroke-width="1.4"/>
<circle cx="138" cy="318.9" r="3.3" fill="#b9b9b9" stroke="#111111" stroke-width="1.4"/>
<circle cx="143.4" cy="319.6" r="3.3" fill="#b9b9b9" stroke="#111111" stroke-width="1.4"/>
<circle cx="148.8" cy="321.1" r="3.3" fill="#b9b9b9" stroke="#111111" stroke-width="1.4"/>
<circle cx="146.6" cy="327.6" r="3.3" fill="#b9b9b9" stroke="#111111" stroke-width="1.4"/>
<circle cx="158.5" cy="315.7" r="3.3" fill="#b9b9b9" stroke="#111111" stroke-width="1.4"/>
<circle cx="168.3" cy="311.8" r="3.3" fill="#b9b9b9" stroke="#111111" stroke-width="1.4"/>
<circle cx="169" cy="314.2" r="3.3" fill="#b9b9b9" stroke="#111111" stroke-width="1.4"/>
<circle cx="191.4" cy="308.8" r="3.3" fill="#b9b9b9" stroke="#111111" stroke-width="1.4"/>
<circle cx="162.3" cy="323.2" r="3.3" fill="#b9b9b9" stroke="#111111" stroke-width="1.4"/>
<circle cx="187.7" cy="329.1" r="3.3" fill="#b9b9b9" stroke="#111111" stroke-width="1.4"/>
<circle cx="193.1" cy="330.8" r="3.3" fill="#b9b9b9" stroke="#111111" stroke-width="1.4"/>
<circle cx="195.2" cy="330.8" r="3.3" fill="#b9b9b9" stroke="#111111" stroke-width="1.4"/>
<circle cx="212.9" cy="321.1" r="3.3" fill="#b9b9b9" stroke="#111111" stroke-width="1.4"/>
<line x1="49.8" y1="301" x2="188.8" y2="327.6" stroke="#17784a" stroke-width="1.4"/>
<line x1="85.4" y1="324.3" x2="211.5" y2="321.1" stroke="#111111" stroke-width="1.4"/>
<circle cx="169.8" cy="166.6" r="3.1" fill="#b9b9b9" stroke="#111111" stroke-width="1.1"/>
<circle cx="169.8" cy="180.8" r="3.1" fill="#0e6f40" stroke="#111111" stroke-width="1.1"/>
<text transform="translate(180.2,170.4) scale(1.04,1)" font-size="11.3" fill="#000000" stroke="#000000" stroke-width="0.1">WT</text>
<text transform="translate(181.2,184.6) scale(1.04,1)" font-size="11.3" fill="#000000" stroke="#000000" stroke-width="0.1"><tspan font-style="italic">Grin1</tspan> KO</text>
<text transform="translate(289,148.6) scale(1.0,1)" font-size="16.5" font-weight="bold" fill="#000000" stroke="#000000" stroke-width="0.1">d</text>
<line x1="374.6" y1="164" x2="374.6" y2="341.9" stroke="#2a2a2a" stroke-width="1.1" stroke-dasharray="2.1,2.2"/>
<path d="M335.8,163.7V341.9H557" stroke="#111111" stroke-width="1.5" fill="none"/>
<line x1="331.7" y1="341.9" x2="335.8" y2="341.9" stroke="#111111" stroke-width="1.2"/>
<text transform="translate(327,345.4) scale(1.04,1)" font-size="11.3" text-anchor="end" fill="#000000" stroke="#000000" stroke-width="0.1">0</text>
<line x1="331.7" y1="297.5" x2="335.8" y2="297.5" stroke="#111111" stroke-width="1.2"/>
<text transform="translate(327,301) scale(1.04,1)" font-size="11.3" text-anchor="end" fill="#000000" stroke="#000000" stroke-width="0.1">5</text>
<line x1="331.7" y1="253.1" x2="335.8" y2="253.1" stroke="#111111" stroke-width="1.2"/>
<text transform="translate(327,256.6) scale(1.04,1)" font-size="11.3" text-anchor="end" fill="#000000" stroke="#000000" stroke-width="0.1">10</text>
<line x1="331.7" y1="208.7" x2="335.8" y2="208.7" stroke="#111111" stroke-width="1.2"/>
<text transform="translate(327,212.2) scale(1.04,1)" font-size="11.3" text-anchor="end" fill="#000000" stroke="#000000" stroke-width="0.1">15</text>
<line x1="331.7" y1="164.3" x2="335.8" y2="164.3" stroke="#111111" stroke-width="1.2"/>
<text transform="translate(327,167.8) scale(1.04,1)" font-size="11.3" text-anchor="end" fill="#000000" stroke="#000000" stroke-width="0.1">20</text>
<line x1="339.1" y1="341.9" x2="339.1" y2="346.1" stroke="#111111" stroke-width="1.3"/>
<text transform="translate(339.2,361.1) scale(1.04,1)" font-size="11.3" text-anchor="middle" fill="#000000" stroke="#000000" stroke-width="0.1">0</text>
<line x1="374.7" y1="341.9" x2="374.7" y2="346.1" stroke="#111111" stroke-width="1.3"/>
<text transform="translate(374.9,361.1) scale(1.04,1)" font-size="11.3" text-anchor="middle" fill="#000000" stroke="#000000" stroke-width="0.1">1</text>
<line x1="410.3" y1="341.9" x2="410.3" y2="346.1" stroke="#111111" stroke-width="1.3"/>
<text transform="translate(410.5,361.1) scale(1.04,1)" font-size="11.3" text-anchor="middle" fill="#000000" stroke="#000000" stroke-width="0.1">2</text>
<line x1="446" y1="341.9" x2="446" y2="346.1" stroke="#111111" stroke-width="1.3"/>
<text transform="translate(446.2,361.1) scale(1.04,1)" font-size="11.3" text-anchor="middle" fill="#000000" stroke="#000000" stroke-width="0.1">3</text>
<line x1="481.6" y1="341.9" x2="481.6" y2="346.1" stroke="#111111" stroke-width="1.3"/>
<text transform="translate(481.8,361.1) scale(1.04,1)" font-size="11.3" text-anchor="middle" fill="#000000" stroke="#000000" stroke-width="0.1">4</text>
<line x1="517.2" y1="341.9" x2="517.2" y2="346.1" stroke="#111111" stroke-width="1.3"/>
<text transform="translate(517.5,361.1) scale(1.04,1)" font-size="11.3" text-anchor="middle" fill="#000000" stroke="#000000" stroke-width="0.1">5</text>
<line x1="552.9" y1="341.9" x2="552.9" y2="346.1" stroke="#111111" stroke-width="1.3"/>
<text transform="translate(553.1,361.1) scale(1.04,1)" font-size="11.3" text-anchor="middle" fill="#000000" stroke="#000000" stroke-width="0.1">6</text>
<text transform="translate(449.5,377.6) scale(1.09,1)" font-size="11.3" text-anchor="middle" fill="#000000" stroke="#000000" stroke-width="0.1">NA ratio</text>
<text transform="translate(340.1,160.7) scale(1.04,1)" font-size="11.3" fill="#000000" stroke="#000000" stroke-width="0.1">P16-21</text>
<text transform="translate(298.8,324.6) rotate(-90) scale(1.0,1)" font-size="12.3" fill="#000000" stroke="#000000" stroke-width="0.1" textLength="36.8" lengthAdjust="spacingAndGlyphs">sEPSC</text>
<text transform="translate(301.7,285.8) rotate(-90) scale(1.0,1)" font-size="8.2" fill="#000000" stroke="#000000" stroke-width="0.1" textLength="22.6" lengthAdjust="spacingAndGlyphs">AMPA</text>
<text transform="translate(298.8,259.4) rotate(-90) scale(1.0,1)" font-size="12.3" fill="#000000" stroke="#000000" stroke-width="0.1" textLength="78.6" lengthAdjust="spacingAndGlyphs">frequency (Hz)</text>
<circle cx="426" cy="284.6" r="3.65" fill="#000000" stroke="#111111" stroke-width="1.2"/>
<circle cx="439.8" cy="280.9" r="3.65" fill="#000000" stroke="#111111" stroke-width="1.2"/>
<circle cx="399.7" cy="297.5" r="3.65" fill="#000000" stroke="#111111" stroke-width="1.2"/>
<circle cx="381" cy="308.3" r="3.65" fill="#000000" stroke="#111111" stroke-width="1.2"/>
<circle cx="418.4" cy="312.2" r="3.65" fill="#000000" stroke="#111111" stroke-width="1.2"/>
<circle cx="395.8" cy="317.6" r="3.65" fill="#000000" stroke="#111111" stroke-width="1.2"/>
<circle cx="406.8" cy="329" r="3.65" fill="#000000" stroke="#111111" stroke-width="1.2"/>
<circle cx="412.2" cy="330.5" r="3.65" fill="#000000" stroke="#111111" stroke-width="1.2"/>
<circle cx="428.1" cy="327.2" r="3.65" fill="#000000" stroke="#111111" stroke-width="1.2"/>
<circle cx="437.4" cy="327.2" r="3.65" fill="#000000" stroke="#111111" stroke-width="1.2"/>
<circle cx="423.4" cy="334.1" r="3.65" fill="#000000" stroke="#111111" stroke-width="1.2"/>
<circle cx="440.8" cy="304.6" r="3.65" fill="#000000" stroke="#111111" stroke-width="1.2"/>
<circle cx="442.5" cy="313.2" r="3.65" fill="#000000" stroke="#111111" stroke-width="1.2"/>
<circle cx="454.3" cy="312.6" r="3.65" fill="#000000" stroke="#111111" stroke-width="1.2"/>
<circle cx="466.2" cy="315.8" r="3.65" fill="#000000" stroke="#111111" stroke-width="1.2"/>
<circle cx="477.4" cy="309.6" r="3.65" fill="#000000" stroke="#111111" stroke-width="1.2"/>
<circle cx="483.9" cy="307.9" r="3.65" fill="#000000" stroke="#111111" stroke-width="1.2"/>
<circle cx="441.2" cy="320.8" r="3.65" fill="#000000" stroke="#111111" stroke-width="1.2"/>
<circle cx="443.4" cy="327.2" r="3.65" fill="#000000" stroke="#111111" stroke-width="1.2"/>
<circle cx="442.9" cy="330.9" r="3.65" fill="#000000" stroke="#111111" stroke-width="1.2"/>
<circle cx="441.2" cy="338" r="3.65" fill="#000000" stroke="#111111" stroke-width="1.2"/>
<circle cx="459.5" cy="329" r="3.65" fill="#000000" stroke="#111111" stroke-width="1.2"/>
<circle cx="463.8" cy="330.5" r="3.65" fill="#000000" stroke="#111111" stroke-width="1.2"/>
<circle cx="483.4" cy="321.9" r="3.65" fill="#000000" stroke="#111111" stroke-width="1.2"/>
<circle cx="489.9" cy="320.1" r="3.65" fill="#000000" stroke="#111111" stroke-width="1.2"/>
<circle cx="497.9" cy="324" r="3.65" fill="#000000" stroke="#111111" stroke-width="1.2"/>
<circle cx="500.7" cy="330.9" r="3.65" fill="#000000" stroke="#111111" stroke-width="1.2"/>
<circle cx="509.1" cy="328.3" r="3.65" fill="#000000" stroke="#111111" stroke-width="1.2"/>
<circle cx="519" cy="329" r="3.65" fill="#000000" stroke="#111111" stroke-width="1.2"/>
<circle cx="538.4" cy="328.3" r="3.65" fill="#000000" stroke="#111111" stroke-width="1.2"/>
<circle cx="339.8" cy="183" r="3.65" fill="#0e6f40" stroke="#111111" stroke-width="1.2"/>
<circle cx="339.8" cy="203.4" r="3.65" fill="#0e6f40" stroke="#111111" stroke-width="1.2"/>
<circle cx="350.6" cy="209.7" r="3.65" fill="#0e6f40" stroke="#111111" stroke-width="1.2"/>
<circle cx="344.9" cy="221" r="3.65" fill="#0e6f40" stroke="#111111" stroke-width="1.2"/>
<circle cx="339.8" cy="238.1" r="3.65" fill="#0e6f40" stroke="#111111" stroke-width="1.2"/>
<circle cx="339.8" cy="245.1" r="3.65" fill="#0e6f40" stroke="#111111" stroke-width="1.2"/>
<circle cx="339.8" cy="249.9" r="3.65" fill="#0e6f40" stroke="#111111" stroke-width="1.2"/>
<circle cx="373.3" cy="238.1" r="3.65" fill="#0e6f40" stroke="#111111" stroke-width="1.2"/>
<circle cx="353.2" cy="255.2" r="3.65" fill="#0e6f40" stroke="#111111" stroke-width="1.2"/>
<circle cx="387.8" cy="255.2" r="3.65" fill="#0e6f40" stroke="#111111" stroke-width="1.2"/>
<circle cx="339.4" cy="263.7" r="3.65" fill="#0e6f40" stroke="#111111" stroke-width="1.2"/>
<circle cx="339.4" cy="271.2" r="3.65" fill="#0e6f40" stroke="#111111" stroke-width="1.2"/>
<circle cx="410.5" cy="265.4" r="3.65" fill="#0e6f40" stroke="#111111" stroke-width="1.2"/>
<circle cx="435.3" cy="272.3" r="3.65" fill="#0e6f40" stroke="#111111" stroke-width="1.2"/>
<circle cx="362" cy="275.1" r="3.65" fill="#0e6f40" stroke="#111111" stroke-width="1.2"/>
<circle cx="359.2" cy="277.1" r="3.65" fill="#0e6f40" stroke="#111111" stroke-width="1.2"/>
<circle cx="339.4" cy="281.4" r="3.65" fill="#0e6f40" stroke="#111111" stroke-width="1.2"/>
<circle cx="345.9" cy="282.4" r="3.65" fill="#0e6f40" stroke="#111111" stroke-width="1.2"/>
<circle cx="351.7" cy="282.4" r="3.65" fill="#0e6f40" stroke="#111111" stroke-width="1.2"/>
<circle cx="365.9" cy="284.6" r="3.65" fill="#0e6f40" stroke="#111111" stroke-width="1.2"/>
<circle cx="358.3" cy="288.9" r="3.65" fill="#0e6f40" stroke="#111111" stroke-width="1.2"/>
<circle cx="373" cy="293.4" r="3.65" fill="#0e6f40" stroke="#111111" stroke-width="1.2"/>
<circle cx="413.9" cy="287.4" r="3.65" fill="#0e6f40" stroke="#111111" stroke-width="1.2"/>
<circle cx="424.9" cy="292.8" r="3.65" fill="#0e6f40" stroke="#111111" stroke-width="1.2"/>
<circle cx="395.8" cy="292.8" r="3.65" fill="#0e6f40" stroke="#111111" stroke-width="1.2"/>
<circle cx="387.9" cy="295.6" r="3.65" fill="#0e6f40" stroke="#111111" stroke-width="1.2"/>
<circle cx="404.4" cy="297.5" r="3.65" fill="#0e6f40" stroke="#111111" stroke-width="1.2"/>
<circle cx="428.8" cy="304" r="3.65" fill="#0e6f40" stroke="#111111" stroke-width="1.2"/>
<circle cx="437.4" cy="303.6" r="3.65" fill="#0e6f40" stroke="#111111" stroke-width="1.2"/>
<circle cx="339.4" cy="307.9" r="3.65" fill="#0e6f40" stroke="#111111" stroke-width="1.2"/>
<circle cx="340.5" cy="308.5" r="3.65" fill="#0e6f40" stroke="#111111" stroke-width="1.2"/>
<circle cx="354.5" cy="308.9" r="3.65" fill="#0e6f40" stroke="#111111" stroke-width="1.2"/>
<circle cx="389.4" cy="306.1" r="3.65" fill="#0e6f40" stroke="#111111" stroke-width="1.2"/>
<circle cx="393.2" cy="309.4" r="3.65" fill="#0e6f40" stroke="#111111" stroke-width="1.2"/>
<circle cx="395.4" cy="311.5" r="3.65" fill="#0e6f40" stroke="#111111" stroke-width="1.2"/>
<circle cx="429.9" cy="314.8" r="3.65" fill="#0e6f40" stroke="#111111" stroke-width="1.2"/>
<circle cx="434.2" cy="315.4" r="3.65" fill="#0e6f40" stroke="#111111" stroke-width="1.2"/>
<circle cx="437.4" cy="314.3" r="3.65" fill="#0e6f40" stroke="#111111" stroke-width="1.2"/>
<circle cx="421.3" cy="334.1" r="3.65" fill="#0e6f40" stroke="#111111" stroke-width="1.2"/>
<circle cx="442.9" cy="286.7" r="3.65" fill="#0e6f40" stroke="#111111" stroke-width="1.2"/>
<circle cx="449.8" cy="321.9" r="3.65" fill="#0e6f40" stroke="#111111" stroke-width="1.2"/>
<circle cx="495.1" cy="310.4" r="3.65" fill="#0e6f40" stroke="#111111" stroke-width="1.2"/>
<line x1="339.6" y1="256.8" x2="494.6" y2="334.4" stroke="#17784a" stroke-width="2.0"/>
<line x1="374.9" y1="310.7" x2="538.4" y2="327.9" stroke="#111111" stroke-width="2.0"/>
<circle cx="482.1" cy="166.6" r="3.1" fill="#000000" stroke="#111111" stroke-width="1.1"/>
<circle cx="482.1" cy="180.8" r="3.1" fill="#0e6f40" stroke="#111111" stroke-width="1.1"/>
<text transform="translate(492.5,170.4) scale(1.04,1)" font-size="11.3" fill="#000000" stroke="#000000" stroke-width="0.1">WT</text>
<text transform="translate(493.5,184.6) scale(1.04,1)" font-size="11.3" fill="#000000" stroke="#000000" stroke-width="0.1"><tspan font-style="italic">Grin1</tspan> KO</text>
<text transform="translate(1.5,403.7) scale(1.0,1)" font-size="16.5" font-weight="bold" fill="#000000" stroke="#000000" stroke-width="0.1">e</text>
<path d="M44.1,430V626.6H523.3" stroke="#111111" stroke-width="1.6" fill="none"/>
<line x1="40" y1="625.9" x2="44.1" y2="625.9" stroke="#111111" stroke-width="1.2"/>
<text transform="translate(34.8,630) scale(1.09,1)" font-size="11.6" text-anchor="end" fill="#000000" stroke="#000000" stroke-width="0.1">0</text>
<line x1="40" y1="606.4" x2="44.1" y2="606.4" stroke="#111111" stroke-width="1.2"/>
<text transform="translate(34.8,610.5) scale(1.09,1)" font-size="11.6" text-anchor="end" fill="#000000" stroke="#000000" stroke-width="0.1">2</text>
<line x1="40" y1="586.8" x2="44.1" y2="586.8" stroke="#111111" stroke-width="1.2"/>
<text transform="translate(34.8,590.9) scale(1.09,1)" font-size="11.6" text-anchor="end" fill="#000000" stroke="#000000" stroke-width="0.1">4</text>
<line x1="40" y1="567.3" x2="44.1" y2="567.3" stroke="#111111" stroke-width="1.2"/>
<text transform="translate(34.8,571.4) scale(1.09,1)" font-size="11.6" text-anchor="end" fill="#000000" stroke="#000000" stroke-width="0.1">6</text>
<line x1="40" y1="547.7" x2="44.1" y2="547.7" stroke="#111111" stroke-width="1.2"/>
<text transform="translate(34.8,551.8) scale(1.09,1)" font-size="11.6" text-anchor="end" fill="#000000" stroke="#000000" stroke-width="0.1">8</text>
<line x1="40" y1="528.2" x2="44.1" y2="528.2" stroke="#111111" stroke-width="1.2"/>
<text transform="translate(34.8,532.3) scale(1.09,1)" font-size="11.6" text-anchor="end" fill="#000000" stroke="#000000" stroke-width="0.1">10</text>
<line x1="40" y1="508.7" x2="44.1" y2="508.7" stroke="#111111" stroke-width="1.2"/>
<text transform="translate(34.8,512.8) scale(1.09,1)" font-size="11.6" text-anchor="end" fill="#000000" stroke="#000000" stroke-width="0.1">12</text>
<line x1="40" y1="489.1" x2="44.1" y2="489.1" stroke="#111111" stroke-width="1.2"/>
<text transform="translate(34.8,493.2) scale(1.09,1)" font-size="11.6" text-anchor="end" fill="#000000" stroke="#000000" stroke-width="0.1">14</text>
<line x1="40" y1="469.6" x2="44.1" y2="469.6" stroke="#111111" stroke-width="1.2"/>
<text transform="translate(34.8,473.7) scale(1.09,1)" font-size="11.6" text-anchor="end" fill="#000000" stroke="#000000" stroke-width="0.1">16</text>
<line x1="40" y1="450" x2="44.1" y2="450" stroke="#111111" stroke-width="1.2"/>
<text transform="translate(34.8,454.1) scale(1.09,1)" font-size="11.6" text-anchor="end" fill="#000000" stroke="#000000" stroke-width="0.1">18</text>
<line x1="40" y1="430.5" x2="44.1" y2="430.5" stroke="#111111" stroke-width="1.2"/>
<text transform="translate(34.8,434.6) scale(1.09,1)" font-size="11.6" text-anchor="end" fill="#000000" stroke="#000000" stroke-width="0.1">20</text>
<text transform="translate(12.4,597.5) rotate(-90) scale(1.0,1)" font-size="11.3" fill="#000000" stroke="#000000" stroke-width="0.1" textLength="145" lengthAdjust="spacingAndGlyphs">sEPSCAMPA frequency (Hz)</text>
<line x1="281.3" y1="588" x2="393.1" y2="588" stroke="#111111" stroke-width="1.5" stroke-dasharray="4.5,2.7"/>
<circle cx="73.9" cy="622.2" r="4.4" fill="#b4b4b4" stroke="#8a8a8a" stroke-width="0.8"/>
<circle cx="80.1" cy="621.6" r="4.4" fill="#b4b4b4" stroke="#8a8a8a" stroke-width="0.8"/>
<circle cx="82.6" cy="618.4" r="4.4" fill="#b4b4b4" stroke="#8a8a8a" stroke-width="0.8"/>
<circle cx="75.7" cy="614" r="4.4" fill="#b4b4b4" stroke="#8a8a8a" stroke-width="0.8"/>
<circle cx="86.4" cy="613.4" r="4.4" fill="#b4b4b4" stroke="#8a8a8a" stroke-width="0.8"/>
<circle cx="79.5" cy="615.3" r="4.4" fill="#b4b4b4" stroke="#8a8a8a" stroke-width="0.8"/>
<circle cx="82" cy="610.3" r="4.4" fill="#b4b4b4" stroke="#8a8a8a" stroke-width="0.8"/>
<circle cx="75.7" cy="606.5" r="4.4" fill="#b4b4b4" stroke="#8a8a8a" stroke-width="0.8"/>
<circle cx="85.8" cy="605.2" r="4.4" fill="#b4b4b4" stroke="#8a8a8a" stroke-width="0.8"/>
<circle cx="80.5" cy="606" r="4.4" fill="#b4b4b4" stroke="#8a8a8a" stroke-width="0.8"/>
<circle cx="75.1" cy="600.2" r="4.4" fill="#b4b4b4" stroke="#8a8a8a" stroke-width="0.8"/>
<circle cx="87" cy="600.2" r="4.4" fill="#b4b4b4" stroke="#8a8a8a" stroke-width="0.8"/>
<circle cx="81" cy="601" r="4.4" fill="#b4b4b4" stroke="#8a8a8a" stroke-width="0.8"/>
<circle cx="78.2" cy="596.4" r="4.4" fill="#b4b4b4" stroke="#8a8a8a" stroke-width="0.8"/>
<circle cx="84" cy="596" r="4.4" fill="#b4b4b4" stroke="#8a8a8a" stroke-width="0.8"/>
<circle cx="79.5" cy="591.4" r="4.4" fill="#b4b4b4" stroke="#8a8a8a" stroke-width="0.8"/>
<circle cx="82" cy="590.2" r="4.4" fill="#b4b4b4" stroke="#8a8a8a" stroke-width="0.8"/>
<circle cx="77.5" cy="610" r="4.4" fill="#b4b4b4" stroke="#8a8a8a" stroke-width="0.8"/>
<circle cx="84.5" cy="609" r="4.4" fill="#b4b4b4" stroke="#8a8a8a" stroke-width="0.8"/>
<line x1="100.5" y1="589.9" x2="100.5" y2="620.7" stroke="#111111" stroke-width="1.4"/>
<line x1="98.4" y1="589.9" x2="102.6" y2="589.9" stroke="#111111" stroke-width="1.5"/>
<line x1="98.4" y1="620.7" x2="102.6" y2="620.7" stroke="#111111" stroke-width="1.5"/>
<rect x="93.3" y="600.2" width="14.3" height="14" fill="#fff" stroke="#111111" stroke-width="1.5"/>
<circle cx="100.4" cy="606.9" r="4.9" fill="#b4b4b4" stroke="#111111" stroke-width="1.3"/>
<line x1="167.1" y1="542" x2="167.1" y2="605.7" stroke="#111111" stroke-width="1.4"/>
<line x1="165" y1="542" x2="169.2" y2="542" stroke="#111111" stroke-width="1.5"/>
<line x1="165" y1="605.7" x2="169.2" y2="605.7" stroke="#111111" stroke-width="1.5"/>
<rect x="160" y="567.5" width="14.2" height="25.8" fill="#fff" stroke="#111111" stroke-width="1.5"/>
<circle cx="143.2" cy="568.2" r="4.8" fill="#0e6f40" stroke="#111111" stroke-width="1.2"/>
<circle cx="146.9" cy="573.8" r="4.8" fill="#0e6f40" stroke="#111111" stroke-width="1.2"/>
<circle cx="147.6" cy="565.7" r="4.8" fill="#0e6f40" stroke="#111111" stroke-width="1.2"/>
<circle cx="152" cy="575.9" r="4.8" fill="#0e6f40" stroke="#111111" stroke-width="1.2"/>
<circle cx="144.7" cy="586.9" r="4.8" fill="#0e6f40" stroke="#111111" stroke-width="1.2"/>
<circle cx="150.5" cy="588.3" r="4.8" fill="#0e6f40" stroke="#111111" stroke-width="1.2"/>
<circle cx="147.6" cy="585.4" r="4.8" fill="#0e6f40" stroke="#111111" stroke-width="1.2"/>
<circle cx="143.2" cy="597.4" r="4.8" fill="#0e6f40" stroke="#111111" stroke-width="1.2"/>
<circle cx="147.6" cy="605.5" r="4.8" fill="#0e6f40" stroke="#111111" stroke-width="1.2"/>
<circle cx="152" cy="601.5" r="4.8" fill="#0e6f40" stroke="#111111" stroke-width="1.2"/>
<circle cx="147.6" cy="541.7" r="4.8" fill="#0e6f40" stroke="#111111" stroke-width="1.2"/>
<circle cx="147.6" cy="554.1" r="4.8" fill="#0e6f40" stroke="#111111" stroke-width="1.2"/>
<circle cx="166.9" cy="578.6" r="5.5" fill="#0e6f40" stroke="#111111" stroke-width="1.2"/>
<line x1="239.9" y1="578.3" x2="239.9" y2="619.4" stroke="#111111" stroke-width="1.4"/>
<line x1="237.8" y1="578.3" x2="242" y2="578.3" stroke="#111111" stroke-width="1.5"/>
<line x1="237.8" y1="619.4" x2="242" y2="619.4" stroke="#111111" stroke-width="1.5"/>
<rect x="232.8" y="593.3" width="14.3" height="20.1" fill="#fff" stroke="#111111" stroke-width="1.5"/>
<circle cx="222.6" cy="580.7" r="4.3" fill="#fff" stroke="#17784a" stroke-width="1.5"/>
<circle cx="218.9" cy="578.2" r="4.3" fill="#fff" stroke="#17784a" stroke-width="1.5"/>
<circle cx="219.5" cy="593.9" r="4.3" fill="#fff" stroke="#17784a" stroke-width="1.5"/>
<circle cx="216.3" cy="595.8" r="4.3" fill="#fff" stroke="#17784a" stroke-width="1.5"/>
<circle cx="223.9" cy="592" r="4.3" fill="#fff" stroke="#17784a" stroke-width="1.5"/>
<circle cx="225.8" cy="599" r="4.3" fill="#fff" stroke="#17784a" stroke-width="1.5"/>
<circle cx="217.6" cy="607.1" r="4.3" fill="#fff" stroke="#17784a" stroke-width="1.5"/>
<circle cx="215.3" cy="603.4" r="4.3" fill="#fff" stroke="#17784a" stroke-width="1.5"/>
<circle cx="218.9" cy="616.6" r="4.3" fill="#fff" stroke="#17784a" stroke-width="1.5"/>
<circle cx="222.6" cy="620.3" r="4.3" fill="#fff" stroke="#17784a" stroke-width="1.5"/>
<circle cx="223.9" cy="612.8" r="4.3" fill="#fff" stroke="#17784a" stroke-width="1.5"/>
<circle cx="240" cy="600.6" r="5.5" fill="#fff" stroke="#17784a" stroke-width="1.5"/>
<circle cx="301" cy="562.1" r="4.5" fill="#1e1e1e" stroke="#161616" stroke-width="0.8"/>
<circle cx="303.6" cy="559.4" r="4.5" fill="#1e1e1e" stroke="#161616" stroke-width="0.8"/>
<circle cx="302.3" cy="577.2" r="4.5" fill="#1e1e1e" stroke="#161616" stroke-width="0.8"/>
<circle cx="297.7" cy="588.1" r="4.5" fill="#1e1e1e" stroke="#161616" stroke-width="0.8"/>
<circle cx="306.4" cy="588.1" r="4.5" fill="#1e1e1e" stroke="#161616" stroke-width="0.8"/>
<circle cx="302.3" cy="593.5" r="4.5" fill="#1e1e1e" stroke="#161616" stroke-width="0.8"/>
<circle cx="297" cy="604.3" r="4.5" fill="#1e1e1e" stroke="#161616" stroke-width="0.8"/>
<circle cx="306.4" cy="600.2" r="4.5" fill="#1e1e1e" stroke="#161616" stroke-width="0.8"/>
<circle cx="301.8" cy="602.9" r="4.5" fill="#1e1e1e" stroke="#161616" stroke-width="0.8"/>
<circle cx="295.6" cy="611.8" r="4.5" fill="#1e1e1e" stroke="#161616" stroke-width="0.8"/>
<circle cx="307.7" cy="611" r="4.5" fill="#1e1e1e" stroke="#161616" stroke-width="0.8"/>
<circle cx="302.3" cy="612.3" r="4.5" fill="#1e1e1e" stroke="#161616" stroke-width="0.8"/>
<circle cx="302.3" cy="617.7" r="4.5" fill="#1e1e1e" stroke="#161616" stroke-width="0.8"/>
<circle cx="302.8" cy="622.5" r="4.5" fill="#1e1e1e" stroke="#161616" stroke-width="0.8"/>
<circle cx="298.5" cy="596" r="4.5" fill="#1e1e1e" stroke="#161616" stroke-width="0.8"/>
<circle cx="305.5" cy="606" r="4.5" fill="#1e1e1e" stroke="#161616" stroke-width="0.8"/>
<circle cx="299" cy="616" r="4.5" fill="#1e1e1e" stroke="#161616" stroke-width="0.8"/>
<circle cx="305.8" cy="617" r="4.5" fill="#1e1e1e" stroke="#161616" stroke-width="0.8"/>
<circle cx="296.5" cy="600" r="4.5" fill="#1e1e1e" stroke="#161616" stroke-width="0.8"/>
<line x1="321.4" y1="563.1" x2="321.4" y2="616.9" stroke="#111111" stroke-width="1.4"/>
<line x1="319.3" y1="563.1" x2="323.5" y2="563.1" stroke="#111111" stroke-width="1.5"/>
<line x1="319.3" y1="616.9" x2="323.5" y2="616.9" stroke="#111111" stroke-width="1.5"/>
<rect x="314.3" y="593.5" width="14.2" height="18.8" fill="#fff" stroke="#111111" stroke-width="1.5"/>
<line x1="314.3" y1="604.8" x2="328.5" y2="604.8" stroke="#111111" stroke-width="1.1"/>
<circle cx="321.2" cy="601" r="5.4" fill="#000" stroke="#111111" stroke-width="1.0"/>
<line x1="382.5" y1="473.9" x2="382.5" y2="588.9" stroke="#111111" stroke-width="1.4"/>
<line x1="380.4" y1="473.9" x2="384.6" y2="473.9" stroke="#111111" stroke-width="1.5"/>
<line x1="380.4" y1="588.9" x2="384.6" y2="588.9" stroke="#111111" stroke-width="1.5"/>
<rect x="375.6" y="512.2" width="13.8" height="50.3" fill="#fff" stroke="#111111" stroke-width="1.5"/>
<line x1="375.6" y1="548.5" x2="389.4" y2="548.5" stroke="#111111" stroke-width="1.1"/>
<circle cx="362.7" cy="453.2" r="4.9" fill="#0e6f40" stroke="#111111" stroke-width="1.2"/>
<circle cx="363.7" cy="473.9" r="4.9" fill="#0e6f40" stroke="#111111" stroke-width="1.2"/>
<circle cx="361.8" cy="480.6" r="4.9" fill="#0e6f40" stroke="#111111" stroke-width="1.2"/>
<circle cx="363.5" cy="493.3" r="4.9" fill="#0e6f40" stroke="#111111" stroke-width="1.2"/>
<circle cx="361.8" cy="506.2" r="4.9" fill="#0e6f40" stroke="#111111" stroke-width="1.2"/>
<circle cx="362.9" cy="511.3" r="4.9" fill="#0e6f40" stroke="#111111" stroke-width="1.2"/>
<circle cx="366.1" cy="519.4" r="4.9" fill="#0e6f40" stroke="#111111" stroke-width="1.2"/>
<circle cx="360.2" cy="525.1" r="4.9" fill="#0e6f40" stroke="#111111" stroke-width="1.2"/>
<circle cx="362.4" cy="531" r="4.9" fill="#0e6f40" stroke="#111111" stroke-width="1.2"/>
<circle cx="363.7" cy="539.6" r="4.9" fill="#0e6f40" stroke="#111111" stroke-width="1.2"/>
<circle cx="364.3" cy="546.4" r="4.9" fill="#0e6f40" stroke="#111111" stroke-width="1.2"/>
<circle cx="366.4" cy="551.7" r="4.9" fill="#0e6f40" stroke="#111111" stroke-width="1.2"/>
<circle cx="357.5" cy="554.4" r="4.9" fill="#0e6f40" stroke="#111111" stroke-width="1.2"/>
<circle cx="363.7" cy="556.3" r="4.9" fill="#0e6f40" stroke="#111111" stroke-width="1.2"/>
<circle cx="368.3" cy="559.8" r="4.9" fill="#0e6f40" stroke="#111111" stroke-width="1.2"/>
<circle cx="358.3" cy="560.6" r="4.9" fill="#0e6f40" stroke="#111111" stroke-width="1.2"/>
<circle cx="362.1" cy="566.6" r="4.9" fill="#0e6f40" stroke="#111111" stroke-width="1.2"/>
<circle cx="363.5" cy="573.3" r="4.9" fill="#0e6f40" stroke="#111111" stroke-width="1.2"/>
<circle cx="361.6" cy="588.9" r="4.9" fill="#0e6f40" stroke="#111111" stroke-width="1.2"/>
<circle cx="364.3" cy="588.1" r="4.9" fill="#0e6f40" stroke="#111111" stroke-width="1.2"/>
<circle cx="382.2" cy="536.6" r="5.9" fill="#0e6f40" stroke="#111111" stroke-width="1.2"/>
<line x1="449.4" y1="536.9" x2="449.4" y2="615.6" stroke="#111111" stroke-width="1.4"/>
<line x1="447.3" y1="536.9" x2="451.5" y2="536.9" stroke="#111111" stroke-width="1.5"/>
<line x1="447.3" y1="615.6" x2="451.5" y2="615.6" stroke="#111111" stroke-width="1.5"/>
<rect x="442.4" y="569.8" width="14" height="26.4" fill="#fff" stroke="#111111" stroke-width="1.5"/>
<circle cx="429.1" cy="531" r="4.4" fill="#fff" stroke="#17784a" stroke-width="1.5"/>
<circle cx="431.2" cy="541.8" r="4.4" fill="#fff" stroke="#17784a" stroke-width="1.5"/>
<circle cx="428" cy="548.5" r="4.4" fill="#fff" stroke="#17784a" stroke-width="1.5"/>
<circle cx="430.7" cy="565.7" r="4.4" fill="#fff" stroke="#17784a" stroke-width="1.5"/>
<circle cx="432.6" cy="567.1" r="4.4" fill="#fff" stroke="#17784a" stroke-width="1.5"/>
<circle cx="434.7" cy="571.9" r="4.4" fill="#fff" stroke="#17784a" stroke-width="1.5"/>
<circle cx="425.3" cy="574.6" r="4.4" fill="#fff" stroke="#17784a" stroke-width="1.5"/>
<circle cx="429.1" cy="577.3" r="4.4" fill="#fff" stroke="#17784a" stroke-width="1.5"/>
<circle cx="427.2" cy="584.1" r="4.4" fill="#fff" stroke="#17784a" stroke-width="1.5"/>
<circle cx="433.1" cy="585.4" r="4.4" fill="#fff" stroke="#17784a" stroke-width="1.5"/>
<circle cx="424" cy="591.6" r="4.4" fill="#fff" stroke="#17784a" stroke-width="1.5"/>
<circle cx="427.2" cy="596.2" r="4.4" fill="#fff" stroke="#17784a" stroke-width="1.5"/>
<circle cx="434.7" cy="596.2" r="4.4" fill="#fff" stroke="#17784a" stroke-width="1.5"/>
<circle cx="433.1" cy="604.3" r="4.4" fill="#fff" stroke="#17784a" stroke-width="1.5"/>
<circle cx="428.5" cy="612.3" r="4.4" fill="#fff" stroke="#17784a" stroke-width="1.5"/>
<circle cx="430.7" cy="618.3" r="4.4" fill="#fff" stroke="#17784a" stroke-width="1.5"/>
<circle cx="449.3" cy="580.6" r="5.5" fill="#fff" stroke="#17784a" stroke-width="1.5"/>
<rect x="490.8" y="556.7" width="9.0" height="9.0" fill="#0e6f40" stroke="#111111" stroke-width="0.9"/>
<rect x="490.8" y="580.9" width="9.0" height="9.0" fill="#0e6f40" stroke="#111111" stroke-width="0.9"/>
<rect x="490.8" y="587.6" width="9.0" height="9.0" fill="#0e6f40" stroke="#111111" stroke-width="0.9"/>
<rect x="490.8" y="594.4" width="9.0" height="9.0" fill="#0e6f40" stroke="#111111" stroke-width="0.9"/>
<rect x="492.7" y="605.7" width="9.0" height="9.0" fill="#0e6f40" stroke="#111111" stroke-width="0.9"/>
<rect x="488.7" y="609.2" width="9.0" height="9.0" fill="#0e6f40" stroke="#111111" stroke-width="0.9"/>
<rect x="485.5" y="613.2" width="9.0" height="9.0" fill="#0e6f40" stroke="#111111" stroke-width="0.9"/>
<rect x="495.4" y="611.9" width="9.0" height="9.0" fill="#0e6f40" stroke="#111111" stroke-width="0.9"/>
<rect x="496" y="616.5" width="9.0" height="9.0" fill="#0e6f40" stroke="#111111" stroke-width="0.9"/>
<rect x="492.5" y="614.5" width="9.0" height="9.0" fill="#0e6f40" stroke="#111111" stroke-width="0.9"/>
<line x1="510.2" y1="563.1" x2="510.2" y2="615.8" stroke="#111111" stroke-width="1.4"/>
<line x1="508.1" y1="563.1" x2="512.3" y2="563.1" stroke="#111111" stroke-width="1.5"/>
<line x1="508.1" y1="615.8" x2="512.3" y2="615.8" stroke="#111111" stroke-width="1.5"/>
<rect x="503.4" y="593" width="13.6" height="20.7" fill="#fff" stroke="#111111" stroke-width="1.5"/>
<line x1="503.4" y1="604.8" x2="517" y2="604.8" stroke="#111111" stroke-width="1.1"/>
<line x1="503.4" y1="607.6" x2="517" y2="607.6" stroke="#111111" stroke-width="1.0"/>
<rect x="505.2" y="593.7" width="10.6" height="10.6" fill="#0e6f40" stroke="#111111" stroke-width="0.9"/>
<text transform="translate(88.7,645.7) scale(1.04,1)" font-size="11.3" text-anchor="middle" fill="#000000" stroke="#000000" stroke-width="0.1">WT</text>
<text transform="translate(161,645.7) scale(1.04,1)" font-size="11.3" text-anchor="middle" fill="#000000" stroke="#000000" stroke-width="0.1"><tspan font-style="italic">Grin1</tspan> KO</text>
<text transform="translate(158.2,660.7) scale(1.04,1)" font-size="11.3" text-anchor="middle" fill="#000000" stroke="#000000" stroke-width="0.1">NA&lt;1</text>
<text transform="translate(232.8,645.7) scale(1.04,1)" font-size="11.3" text-anchor="middle" fill="#000000" stroke="#000000" stroke-width="0.1"><tspan font-style="italic">Grin1</tspan> KO</text>
<text transform="translate(230.5,660.7) scale(1.04,1)" font-size="11.3" text-anchor="middle" fill="#000000" stroke="#000000" stroke-width="0.1">NA&gt;1</text>
<text transform="translate(307.1,645.7) scale(1.04,1)" font-size="11.3" text-anchor="middle" fill="#000000" stroke="#000000" stroke-width="0.1">WT</text>
<text transform="translate(372.2,645.7) scale(1.04,1)" font-size="11.3" text-anchor="middle" fill="#000000" stroke="#000000" stroke-width="0.1"><tspan font-style="italic">Grin1</tspan> KO</text>
<text transform="translate(370,660.7) scale(1.04,1)" font-size="11.3" text-anchor="middle" fill="#000000" stroke="#000000" stroke-width="0.1">NA&lt;1</text>
<text transform="translate(437.4,645.7) scale(1.04,1)" font-size="11.3" text-anchor="middle" fill="#000000" stroke="#000000" stroke-width="0.1"><tspan font-style="italic">Grin1</tspan> KO</text>
<text transform="translate(435.5,660.7) scale(1.04,1)" font-size="11.3" text-anchor="middle" fill="#000000" stroke="#000000" stroke-width="0.1">NA&gt;1</text>
<text transform="translate(502.6,645.7) scale(1.04,1)" font-size="11.3" text-anchor="middle" font-style="italic" fill="#000000" stroke="#000000" stroke-width="0.1">Cre-ve</text>
<text transform="translate(502.1,660.7) scale(1.04,1)" font-size="11.3" text-anchor="middle" fill="#000000" stroke="#000000" stroke-width="0.1"><tspan font-style="italic">Grin1</tspan> KO</text>
<line x1="55" y1="678.4" x2="135.5" y2="678.4" stroke="#111111" stroke-width="1.3"/>
<line x1="179.6" y1="678.4" x2="266.1" y2="678.4" stroke="#111111" stroke-width="1.3"/>
<text transform="translate(158.6,681.8) scale(1.1,1)" font-size="11.3" text-anchor="middle" fill="#000000" stroke="#000000" stroke-width="0.1">P6-11</text>
<line x1="281.3" y1="678.4" x2="355.4" y2="678.4" stroke="#111111" stroke-width="1.3"/>
<line x1="404.9" y1="678.4" x2="529.5" y2="678.4" stroke="#111111" stroke-width="1.3"/>
<text transform="translate(381.7,681.8) scale(1.075,1)" font-size="11.3" text-anchor="middle" fill="#000000" stroke="#000000" stroke-width="0.1">P16-21</text>
<line x1="95.6" y1="522.6" x2="167.3" y2="522.6" stroke="#111111" stroke-width="1.3"/>
<text transform="translate(131.9,518.7) scale(1.0,1)" font-size="12.5" text-anchor="middle" fill="#d6283c" stroke="#d6283c" stroke-width="0.1" letter-spacing="1.04">***</text>
<line x1="168" y1="535" x2="243" y2="535" stroke="#111111" stroke-width="1.4"/>
<text transform="translate(206.1,531.4) scale(1.0,1)" font-size="12.5" text-anchor="middle" fill="#d6283c" stroke="#d6283c" stroke-width="0.1" letter-spacing="1.04">**</text>
<line x1="164.9" y1="445.9" x2="381.9" y2="445.9" stroke="#111111" stroke-width="1.5"/>
<text transform="translate(273.9,443.1) scale(1.0,1)" font-size="12.5" text-anchor="middle" fill="#d6283c" stroke="#d6283c" stroke-width="0.1" letter-spacing="1.04">***</text>
<line x1="318.6" y1="436.4" x2="381.9" y2="436.4" stroke="#111111" stroke-width="1.2"/>
<text transform="translate(351.1,433.1) scale(1.0,1)" font-size="12.5" text-anchor="middle" fill="#d6283c" stroke="#d6283c" stroke-width="0.1" letter-spacing="1.04">***</text>
<line x1="386.4" y1="435.6" x2="511.9" y2="435.6" stroke="#111111" stroke-width="1.2"/>
<text transform="translate(449.8,433.2) scale(1.0,1)" font-size="12.5" text-anchor="middle" fill="#d6283c" stroke="#d6283c" stroke-width="0.1" letter-spacing="1.04">***</text>
<line x1="382.6" y1="460.3" x2="448.9" y2="460.3" stroke="#111111" stroke-width="1.3"/>
<text transform="translate(416.2,458.3) scale(1.0,1)" font-size="12.5" text-anchor="middle" fill="#d6283c" stroke="#d6283c" stroke-width="0.1" letter-spacing="1.04">**</text>
<line x1="318" y1="416" x2="510.5" y2="416" stroke="#111111" stroke-width="1.2"/>
<text transform="translate(406.5,408.5) scale(1.04,1)" font-size="11.3" text-anchor="middle" fill="#000000" stroke="#000000" stroke-width="0.1"><tspan font-style="italic">p</tspan>=0.21</text>
</g>
</svg>
</body>
</html>
